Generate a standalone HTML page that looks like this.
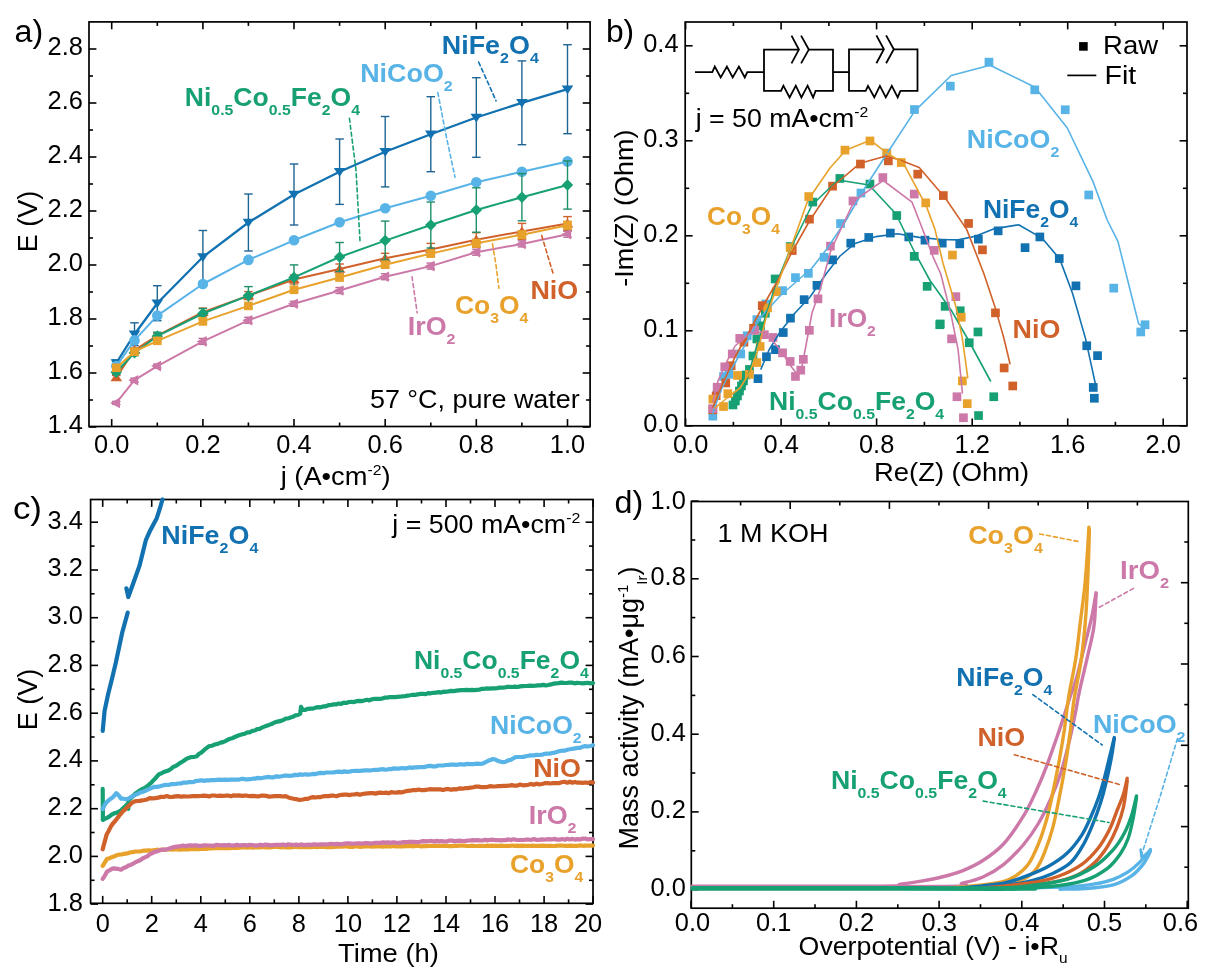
<!DOCTYPE html>
<html><head><meta charset="utf-8"><title>Figure</title>
<style>
html,body{margin:0;padding:0;background:#fff;overflow:hidden;}
svg{display:block;will-change:transform;filter:blur(0.35px);}
text{font-family:"Liberation Sans",sans-serif;}
</style></head><body>
<svg width="1212" height="972" viewBox="0 0 1212 972">
<rect width="1212" height="972" fill="#fff"/>
<rect x="89" y="21.9" width="501.1" height="404.6" fill="none" stroke="#000" stroke-width="1.7"/>
<line x1="111.7" y1="426.5" x2="111.7" y2="419.1" stroke="#000" stroke-width="1.6" />
<line x1="111.7" y1="21.9" x2="111.7" y2="29.3" stroke="#000" stroke-width="1.6" />
<line x1="202.9" y1="426.5" x2="202.9" y2="419.1" stroke="#000" stroke-width="1.6" />
<line x1="202.9" y1="21.9" x2="202.9" y2="29.3" stroke="#000" stroke-width="1.6" />
<line x1="294" y1="426.5" x2="294" y2="419.1" stroke="#000" stroke-width="1.6" />
<line x1="294" y1="21.9" x2="294" y2="29.3" stroke="#000" stroke-width="1.6" />
<line x1="385.2" y1="426.5" x2="385.2" y2="419.1" stroke="#000" stroke-width="1.6" />
<line x1="385.2" y1="21.9" x2="385.2" y2="29.3" stroke="#000" stroke-width="1.6" />
<line x1="476.3" y1="426.5" x2="476.3" y2="419.1" stroke="#000" stroke-width="1.6" />
<line x1="476.3" y1="21.9" x2="476.3" y2="29.3" stroke="#000" stroke-width="1.6" />
<line x1="567.5" y1="426.5" x2="567.5" y2="419.1" stroke="#000" stroke-width="1.6" />
<line x1="567.5" y1="21.9" x2="567.5" y2="29.3" stroke="#000" stroke-width="1.6" />
<line x1="157.3" y1="426.5" x2="157.3" y2="422.5" stroke="#000" stroke-width="1.6" />
<line x1="157.3" y1="21.9" x2="157.3" y2="25.9" stroke="#000" stroke-width="1.6" />
<line x1="248.4" y1="426.5" x2="248.4" y2="422.5" stroke="#000" stroke-width="1.6" />
<line x1="248.4" y1="21.9" x2="248.4" y2="25.9" stroke="#000" stroke-width="1.6" />
<line x1="339.6" y1="426.5" x2="339.6" y2="422.5" stroke="#000" stroke-width="1.6" />
<line x1="339.6" y1="21.9" x2="339.6" y2="25.9" stroke="#000" stroke-width="1.6" />
<line x1="430.8" y1="426.5" x2="430.8" y2="422.5" stroke="#000" stroke-width="1.6" />
<line x1="430.8" y1="21.9" x2="430.8" y2="25.9" stroke="#000" stroke-width="1.6" />
<line x1="521.9" y1="426.5" x2="521.9" y2="422.5" stroke="#000" stroke-width="1.6" />
<line x1="521.9" y1="21.9" x2="521.9" y2="25.9" stroke="#000" stroke-width="1.6" />
<line x1="89" y1="427" x2="96.4" y2="427" stroke="#000" stroke-width="1.6" />
<line x1="590.1" y1="427" x2="582.7" y2="427" stroke="#000" stroke-width="1.6" />
<line x1="89" y1="373" x2="96.4" y2="373" stroke="#000" stroke-width="1.6" />
<line x1="590.1" y1="373" x2="582.7" y2="373" stroke="#000" stroke-width="1.6" />
<line x1="89" y1="319" x2="96.4" y2="319" stroke="#000" stroke-width="1.6" />
<line x1="590.1" y1="319" x2="582.7" y2="319" stroke="#000" stroke-width="1.6" />
<line x1="89" y1="265" x2="96.4" y2="265" stroke="#000" stroke-width="1.6" />
<line x1="590.1" y1="265" x2="582.7" y2="265" stroke="#000" stroke-width="1.6" />
<line x1="89" y1="211" x2="96.4" y2="211" stroke="#000" stroke-width="1.6" />
<line x1="590.1" y1="211" x2="582.7" y2="211" stroke="#000" stroke-width="1.6" />
<line x1="89" y1="157" x2="96.4" y2="157" stroke="#000" stroke-width="1.6" />
<line x1="590.1" y1="157" x2="582.7" y2="157" stroke="#000" stroke-width="1.6" />
<line x1="89" y1="103" x2="96.4" y2="103" stroke="#000" stroke-width="1.6" />
<line x1="590.1" y1="103" x2="582.7" y2="103" stroke="#000" stroke-width="1.6" />
<line x1="89" y1="49" x2="96.4" y2="49" stroke="#000" stroke-width="1.6" />
<line x1="590.1" y1="49" x2="582.7" y2="49" stroke="#000" stroke-width="1.6" />
<line x1="89" y1="400" x2="93" y2="400" stroke="#000" stroke-width="1.6" />
<line x1="590.1" y1="400" x2="586.1" y2="400" stroke="#000" stroke-width="1.6" />
<line x1="89" y1="346" x2="93" y2="346" stroke="#000" stroke-width="1.6" />
<line x1="590.1" y1="346" x2="586.1" y2="346" stroke="#000" stroke-width="1.6" />
<line x1="89" y1="292" x2="93" y2="292" stroke="#000" stroke-width="1.6" />
<line x1="590.1" y1="292" x2="586.1" y2="292" stroke="#000" stroke-width="1.6" />
<line x1="89" y1="238" x2="93" y2="238" stroke="#000" stroke-width="1.6" />
<line x1="590.1" y1="238" x2="586.1" y2="238" stroke="#000" stroke-width="1.6" />
<line x1="89" y1="184" x2="93" y2="184" stroke="#000" stroke-width="1.6" />
<line x1="590.1" y1="184" x2="586.1" y2="184" stroke="#000" stroke-width="1.6" />
<line x1="89" y1="130" x2="93" y2="130" stroke="#000" stroke-width="1.6" />
<line x1="590.1" y1="130" x2="586.1" y2="130" stroke="#000" stroke-width="1.6" />
<line x1="89" y1="76" x2="93" y2="76" stroke="#000" stroke-width="1.6" />
<line x1="590.1" y1="76" x2="586.1" y2="76" stroke="#000" stroke-width="1.6" />
<text transform="translate(82.9,433.4) scale(1.0000,1)" font-size="25.4" text-anchor="end" fill="#000">1.4</text>
<text transform="translate(82.9,379.4) scale(1.0000,1)" font-size="25.4" text-anchor="end" fill="#000">1.6</text>
<text transform="translate(82.9,325.4) scale(1.0000,1)" font-size="25.4" text-anchor="end" fill="#000">1.8</text>
<text transform="translate(82.9,271.4) scale(1.0000,1)" font-size="25.4" text-anchor="end" fill="#000">2.0</text>
<text transform="translate(82.9,217.4) scale(1.0000,1)" font-size="25.4" text-anchor="end" fill="#000">2.2</text>
<text transform="translate(82.9,163.4) scale(1.0000,1)" font-size="25.4" text-anchor="end" fill="#000">2.4</text>
<text transform="translate(82.9,109.4) scale(1.0000,1)" font-size="25.4" text-anchor="end" fill="#000">2.6</text>
<text transform="translate(82.9,55.4) scale(1.0000,1)" font-size="25.4" text-anchor="end" fill="#000">2.8</text>
<text transform="translate(111.7,452.5) scale(1.0000,1)" font-size="25.4" text-anchor="middle" fill="#000">0.0</text>
<text transform="translate(202.9,452.5) scale(1.0000,1)" font-size="25.4" text-anchor="middle" fill="#000">0.2</text>
<text transform="translate(294,452.5) scale(1.0000,1)" font-size="25.4" text-anchor="middle" fill="#000">0.4</text>
<text transform="translate(385.2,452.5) scale(1.0000,1)" font-size="25.4" text-anchor="middle" fill="#000">0.6</text>
<text transform="translate(476.3,452.5) scale(1.0000,1)" font-size="25.4" text-anchor="middle" fill="#000">0.8</text>
<text transform="translate(567.5,452.5) scale(1.0000,1)" font-size="25.4" text-anchor="middle" fill="#000">1.0</text>
<text transform="translate(14.6,42.2) scale(1.0400,1)" font-size="31" font-weight="normal" fill="#000"><tspan>a)</tspan></text>
<text transform="translate(36.7,221.5) rotate(-90) scale(1.0,1)" font-size="27" text-anchor="middle">E (V)</text>
<text transform="translate(280.7,485.2) scale(1.0487,1)" font-size="26" font-weight="normal" fill="#000"><tspan>j (A•cm</tspan><tspan font-size="15" dy="-10">-2</tspan><tspan dy="10">)</tspan></text>
<text transform="translate(369.9,407.7) scale(1.0647,1)" font-size="25.3" font-weight="normal" fill="#000"><tspan>57 °C, pure water</tspan></text>
<line x1="116.3" y1="360" x2="116.3" y2="366" stroke="#1f6594" stroke-width="1.4" />
<line x1="112" y1="360" x2="120.5" y2="360" stroke="#1f6594" stroke-width="1.4" />
<line x1="112" y1="366" x2="120.5" y2="366" stroke="#1f6594" stroke-width="1.4" />
<line x1="134.5" y1="322.8" x2="134.5" y2="345.6" stroke="#1f6594" stroke-width="1.4" />
<line x1="130.2" y1="322.8" x2="138.7" y2="322.8" stroke="#1f6594" stroke-width="1.4" />
<line x1="130.2" y1="345.6" x2="138.7" y2="345.6" stroke="#1f6594" stroke-width="1.4" />
<line x1="157.3" y1="285.7" x2="157.3" y2="320.7" stroke="#1f6594" stroke-width="1.4" />
<line x1="153" y1="285.7" x2="161.5" y2="285.7" stroke="#1f6594" stroke-width="1.4" />
<line x1="153" y1="320.7" x2="161.5" y2="320.7" stroke="#1f6594" stroke-width="1.4" />
<line x1="202.9" y1="230.5" x2="202.9" y2="283.5" stroke="#1f6594" stroke-width="1.4" />
<line x1="198.6" y1="230.5" x2="207.1" y2="230.5" stroke="#1f6594" stroke-width="1.4" />
<line x1="198.6" y1="283.5" x2="207.1" y2="283.5" stroke="#1f6594" stroke-width="1.4" />
<line x1="248.4" y1="194" x2="248.4" y2="251" stroke="#1f6594" stroke-width="1.4" />
<line x1="244.2" y1="194" x2="252.7" y2="194" stroke="#1f6594" stroke-width="1.4" />
<line x1="244.2" y1="251" x2="252.7" y2="251" stroke="#1f6594" stroke-width="1.4" />
<line x1="294" y1="164" x2="294" y2="225" stroke="#1f6594" stroke-width="1.4" />
<line x1="289.8" y1="164" x2="298.3" y2="164" stroke="#1f6594" stroke-width="1.4" />
<line x1="289.8" y1="225" x2="298.3" y2="225" stroke="#1f6594" stroke-width="1.4" />
<line x1="339.6" y1="139" x2="339.6" y2="204.4" stroke="#1f6594" stroke-width="1.4" />
<line x1="335.4" y1="139" x2="343.9" y2="139" stroke="#1f6594" stroke-width="1.4" />
<line x1="335.4" y1="204.4" x2="343.9" y2="204.4" stroke="#1f6594" stroke-width="1.4" />
<line x1="385.2" y1="116.5" x2="385.2" y2="186.9" stroke="#1f6594" stroke-width="1.4" />
<line x1="380.9" y1="116.5" x2="389.4" y2="116.5" stroke="#1f6594" stroke-width="1.4" />
<line x1="380.9" y1="186.9" x2="389.4" y2="186.9" stroke="#1f6594" stroke-width="1.4" />
<line x1="430.8" y1="96.7" x2="430.8" y2="171.7" stroke="#1f6594" stroke-width="1.4" />
<line x1="426.5" y1="96.7" x2="435" y2="96.7" stroke="#1f6594" stroke-width="1.4" />
<line x1="426.5" y1="171.7" x2="435" y2="171.7" stroke="#1f6594" stroke-width="1.4" />
<line x1="476.3" y1="77.7" x2="476.3" y2="157.3" stroke="#1f6594" stroke-width="1.4" />
<line x1="472.1" y1="77.7" x2="480.6" y2="77.7" stroke="#1f6594" stroke-width="1.4" />
<line x1="472.1" y1="157.3" x2="480.6" y2="157.3" stroke="#1f6594" stroke-width="1.4" />
<line x1="521.9" y1="60.9" x2="521.9" y2="144.7" stroke="#1f6594" stroke-width="1.4" />
<line x1="517.7" y1="60.9" x2="526.2" y2="60.9" stroke="#1f6594" stroke-width="1.4" />
<line x1="517.7" y1="144.7" x2="526.2" y2="144.7" stroke="#1f6594" stroke-width="1.4" />
<line x1="567.5" y1="44.7" x2="567.5" y2="133.7" stroke="#1f6594" stroke-width="1.4" />
<line x1="563.2" y1="44.7" x2="571.8" y2="44.7" stroke="#1f6594" stroke-width="1.4" />
<line x1="563.2" y1="133.7" x2="571.8" y2="133.7" stroke="#1f6594" stroke-width="1.4" />
<polyline points="116.3,363 134.5,334.2 157.3,303.2 202.9,257 248.4,222.5 294,194.5 339.6,171.7 385.2,151.7 430.8,134.2 476.3,117.5 521.9,102.8 567.5,89.2" fill="none" stroke="#1271b0" stroke-width="2.3" stroke-linejoin="round" stroke-linecap="round" />
<path d="M110.5,359.2H122.1L116.3,368Z" fill="#1271b0"/>
<path d="M128.7,330.4H140.3L134.5,339.2Z" fill="#1271b0"/>
<path d="M151.5,299.4H163.1L157.3,308.2Z" fill="#1271b0"/>
<path d="M197.1,253.2H208.7L202.9,262Z" fill="#1271b0"/>
<path d="M242.6,218.7H254.2L248.4,227.5Z" fill="#1271b0"/>
<path d="M288.2,190.7H299.8L294,199.5Z" fill="#1271b0"/>
<path d="M333.8,167.9H345.4L339.6,176.7Z" fill="#1271b0"/>
<path d="M379.4,147.9H391L385.2,156.7Z" fill="#1271b0"/>
<path d="M425,130.4H436.6L430.8,139.2Z" fill="#1271b0"/>
<path d="M470.5,113.7H482.1L476.3,122.5Z" fill="#1271b0"/>
<path d="M516.1,99H527.7L521.9,107.8Z" fill="#1271b0"/>
<path d="M561.7,85.4H573.3L567.5,94.2Z" fill="#1271b0"/>
<line x1="116.3" y1="364.6" x2="116.3" y2="367.6" stroke="#4ea3cf" stroke-width="1.4" />
<line x1="112" y1="364.6" x2="120.5" y2="364.6" stroke="#4ea3cf" stroke-width="1.4" />
<line x1="112" y1="367.6" x2="120.5" y2="367.6" stroke="#4ea3cf" stroke-width="1.4" />
<line x1="134.5" y1="338.9" x2="134.5" y2="341.9" stroke="#4ea3cf" stroke-width="1.4" />
<line x1="130.2" y1="338.9" x2="138.7" y2="338.9" stroke="#4ea3cf" stroke-width="1.4" />
<line x1="130.2" y1="341.9" x2="138.7" y2="341.9" stroke="#4ea3cf" stroke-width="1.4" />
<line x1="157.3" y1="313.6" x2="157.3" y2="317.6" stroke="#4ea3cf" stroke-width="1.4" />
<line x1="153" y1="313.6" x2="161.5" y2="313.6" stroke="#4ea3cf" stroke-width="1.4" />
<line x1="153" y1="317.6" x2="161.5" y2="317.6" stroke="#4ea3cf" stroke-width="1.4" />
<line x1="202.9" y1="282" x2="202.9" y2="286" stroke="#4ea3cf" stroke-width="1.4" />
<line x1="198.6" y1="282" x2="207.1" y2="282" stroke="#4ea3cf" stroke-width="1.4" />
<line x1="198.6" y1="286" x2="207.1" y2="286" stroke="#4ea3cf" stroke-width="1.4" />
<line x1="248.4" y1="257.9" x2="248.4" y2="261.9" stroke="#4ea3cf" stroke-width="1.4" />
<line x1="244.2" y1="257.9" x2="252.7" y2="257.9" stroke="#4ea3cf" stroke-width="1.4" />
<line x1="244.2" y1="261.9" x2="252.7" y2="261.9" stroke="#4ea3cf" stroke-width="1.4" />
<line x1="294" y1="238.3" x2="294" y2="242.3" stroke="#4ea3cf" stroke-width="1.4" />
<line x1="289.8" y1="238.3" x2="298.3" y2="238.3" stroke="#4ea3cf" stroke-width="1.4" />
<line x1="289.8" y1="242.3" x2="298.3" y2="242.3" stroke="#4ea3cf" stroke-width="1.4" />
<line x1="339.6" y1="220.2" x2="339.6" y2="224.2" stroke="#4ea3cf" stroke-width="1.4" />
<line x1="335.4" y1="220.2" x2="343.9" y2="220.2" stroke="#4ea3cf" stroke-width="1.4" />
<line x1="335.4" y1="224.2" x2="343.9" y2="224.2" stroke="#4ea3cf" stroke-width="1.4" />
<line x1="385.2" y1="206.3" x2="385.2" y2="210.3" stroke="#4ea3cf" stroke-width="1.4" />
<line x1="380.9" y1="206.3" x2="389.4" y2="206.3" stroke="#4ea3cf" stroke-width="1.4" />
<line x1="380.9" y1="210.3" x2="389.4" y2="210.3" stroke="#4ea3cf" stroke-width="1.4" />
<line x1="430.8" y1="193.8" x2="430.8" y2="197.8" stroke="#4ea3cf" stroke-width="1.4" />
<line x1="426.5" y1="193.8" x2="435" y2="193.8" stroke="#4ea3cf" stroke-width="1.4" />
<line x1="426.5" y1="197.8" x2="435" y2="197.8" stroke="#4ea3cf" stroke-width="1.4" />
<line x1="476.3" y1="180.2" x2="476.3" y2="184.2" stroke="#4ea3cf" stroke-width="1.4" />
<line x1="472.1" y1="180.2" x2="480.6" y2="180.2" stroke="#4ea3cf" stroke-width="1.4" />
<line x1="472.1" y1="184.2" x2="480.6" y2="184.2" stroke="#4ea3cf" stroke-width="1.4" />
<line x1="521.9" y1="169.7" x2="521.9" y2="173.7" stroke="#4ea3cf" stroke-width="1.4" />
<line x1="517.7" y1="169.7" x2="526.2" y2="169.7" stroke="#4ea3cf" stroke-width="1.4" />
<line x1="517.7" y1="173.7" x2="526.2" y2="173.7" stroke="#4ea3cf" stroke-width="1.4" />
<line x1="567.5" y1="159.4" x2="567.5" y2="163.4" stroke="#4ea3cf" stroke-width="1.4" />
<line x1="563.2" y1="159.4" x2="571.8" y2="159.4" stroke="#4ea3cf" stroke-width="1.4" />
<line x1="563.2" y1="163.4" x2="571.8" y2="163.4" stroke="#4ea3cf" stroke-width="1.4" />
<polyline points="116.3,366.1 134.5,340.4 157.3,315.6 202.9,284 248.4,259.9 294,240.3 339.6,222.2 385.2,208.3 430.8,195.8 476.3,182.2 521.9,171.7 567.5,161.4" fill="none" stroke="#58b3e6" stroke-width="2.0" stroke-linejoin="round" stroke-linecap="round" />
<circle cx="116.3" cy="366.1" r="5.3" fill="#58b3e6"/>
<circle cx="134.5" cy="340.4" r="5.3" fill="#58b3e6"/>
<circle cx="157.3" cy="315.6" r="5.3" fill="#58b3e6"/>
<circle cx="202.9" cy="284" r="5.3" fill="#58b3e6"/>
<circle cx="248.4" cy="259.9" r="5.3" fill="#58b3e6"/>
<circle cx="294" cy="240.3" r="5.3" fill="#58b3e6"/>
<circle cx="339.6" cy="222.2" r="5.3" fill="#58b3e6"/>
<circle cx="385.2" cy="208.3" r="5.3" fill="#58b3e6"/>
<circle cx="430.8" cy="195.8" r="5.3" fill="#58b3e6"/>
<circle cx="476.3" cy="182.2" r="5.3" fill="#58b3e6"/>
<circle cx="521.9" cy="171.7" r="5.3" fill="#58b3e6"/>
<circle cx="567.5" cy="161.4" r="5.3" fill="#58b3e6"/>
<line x1="116.3" y1="375.5" x2="116.3" y2="379.5" stroke="#d0612a" stroke-width="1.4" />
<line x1="112" y1="375.5" x2="120.5" y2="375.5" stroke="#d0612a" stroke-width="1.4" />
<line x1="112" y1="379.5" x2="120.5" y2="379.5" stroke="#d0612a" stroke-width="1.4" />
<line x1="134.5" y1="348" x2="134.5" y2="352" stroke="#d0612a" stroke-width="1.4" />
<line x1="130.2" y1="348" x2="138.7" y2="348" stroke="#d0612a" stroke-width="1.4" />
<line x1="130.2" y1="352" x2="138.7" y2="352" stroke="#d0612a" stroke-width="1.4" />
<line x1="157.3" y1="333.1" x2="157.3" y2="338.1" stroke="#d0612a" stroke-width="1.4" />
<line x1="153" y1="333.1" x2="161.5" y2="333.1" stroke="#d0612a" stroke-width="1.4" />
<line x1="153" y1="338.1" x2="161.5" y2="338.1" stroke="#d0612a" stroke-width="1.4" />
<line x1="202.9" y1="308.1" x2="202.9" y2="316.1" stroke="#d0612a" stroke-width="1.4" />
<line x1="198.6" y1="308.1" x2="207.1" y2="308.1" stroke="#d0612a" stroke-width="1.4" />
<line x1="198.6" y1="316.1" x2="207.1" y2="316.1" stroke="#d0612a" stroke-width="1.4" />
<line x1="248.4" y1="291.6" x2="248.4" y2="299.6" stroke="#d0612a" stroke-width="1.4" />
<line x1="244.2" y1="291.6" x2="252.7" y2="291.6" stroke="#d0612a" stroke-width="1.4" />
<line x1="244.2" y1="299.6" x2="252.7" y2="299.6" stroke="#d0612a" stroke-width="1.4" />
<line x1="294" y1="275" x2="294" y2="284" stroke="#d0612a" stroke-width="1.4" />
<line x1="289.8" y1="275" x2="298.3" y2="275" stroke="#d0612a" stroke-width="1.4" />
<line x1="289.8" y1="284" x2="298.3" y2="284" stroke="#d0612a" stroke-width="1.4" />
<line x1="339.6" y1="264" x2="339.6" y2="274" stroke="#d0612a" stroke-width="1.4" />
<line x1="335.4" y1="264" x2="343.9" y2="264" stroke="#d0612a" stroke-width="1.4" />
<line x1="335.4" y1="274" x2="343.9" y2="274" stroke="#d0612a" stroke-width="1.4" />
<line x1="385.2" y1="253.3" x2="385.2" y2="263.3" stroke="#d0612a" stroke-width="1.4" />
<line x1="380.9" y1="253.3" x2="389.4" y2="253.3" stroke="#d0612a" stroke-width="1.4" />
<line x1="380.9" y1="263.3" x2="389.4" y2="263.3" stroke="#d0612a" stroke-width="1.4" />
<line x1="430.8" y1="243.4" x2="430.8" y2="255.4" stroke="#d0612a" stroke-width="1.4" />
<line x1="426.5" y1="243.4" x2="435" y2="243.4" stroke="#d0612a" stroke-width="1.4" />
<line x1="426.5" y1="255.4" x2="435" y2="255.4" stroke="#d0612a" stroke-width="1.4" />
<line x1="476.3" y1="232.7" x2="476.3" y2="246.7" stroke="#d0612a" stroke-width="1.4" />
<line x1="472.1" y1="232.7" x2="480.6" y2="232.7" stroke="#d0612a" stroke-width="1.4" />
<line x1="472.1" y1="246.7" x2="480.6" y2="246.7" stroke="#d0612a" stroke-width="1.4" />
<line x1="521.9" y1="223.4" x2="521.9" y2="239.4" stroke="#d0612a" stroke-width="1.4" />
<line x1="517.7" y1="223.4" x2="526.2" y2="223.4" stroke="#d0612a" stroke-width="1.4" />
<line x1="517.7" y1="239.4" x2="526.2" y2="239.4" stroke="#d0612a" stroke-width="1.4" />
<line x1="567.5" y1="216.6" x2="567.5" y2="230.6" stroke="#d0612a" stroke-width="1.4" />
<line x1="563.2" y1="216.6" x2="571.8" y2="216.6" stroke="#d0612a" stroke-width="1.4" />
<line x1="563.2" y1="230.6" x2="571.8" y2="230.6" stroke="#d0612a" stroke-width="1.4" />
<polyline points="116.3,377.5 134.5,350 157.3,335.6 202.9,312.1 248.4,295.6 294,279.5 339.6,269 385.2,258.3 430.8,249.4 476.3,239.7 521.9,231.4 567.5,223.6" fill="none" stroke="#d0612a" stroke-width="2.0" stroke-linejoin="round" stroke-linecap="round" />
<path d="M110.5,381.3H122.1L116.3,372.5Z" fill="#d0612a"/>
<path d="M128.7,353.8H140.3L134.5,345Z" fill="#d0612a"/>
<path d="M151.5,339.4H163.1L157.3,330.6Z" fill="#d0612a"/>
<path d="M197.1,315.9H208.7L202.9,307.1Z" fill="#d0612a"/>
<path d="M242.6,299.4H254.2L248.4,290.6Z" fill="#d0612a"/>
<path d="M288.2,283.3H299.8L294,274.5Z" fill="#d0612a"/>
<path d="M333.8,272.8H345.4L339.6,264Z" fill="#d0612a"/>
<path d="M379.4,262.1H391L385.2,253.3Z" fill="#d0612a"/>
<path d="M425,253.2H436.6L430.8,244.4Z" fill="#d0612a"/>
<path d="M470.5,243.5H482.1L476.3,234.7Z" fill="#d0612a"/>
<path d="M516.1,235.2H527.7L521.9,226.4Z" fill="#d0612a"/>
<path d="M561.7,227.4H573.3L567.5,218.6Z" fill="#d0612a"/>
<line x1="116.3" y1="370.3" x2="116.3" y2="374.3" stroke="#1d8f69" stroke-width="1.4" />
<line x1="112" y1="370.3" x2="120.5" y2="370.3" stroke="#1d8f69" stroke-width="1.4" />
<line x1="112" y1="374.3" x2="120.5" y2="374.3" stroke="#1d8f69" stroke-width="1.4" />
<line x1="134.5" y1="349.7" x2="134.5" y2="355.7" stroke="#1d8f69" stroke-width="1.4" />
<line x1="130.2" y1="349.7" x2="138.7" y2="349.7" stroke="#1d8f69" stroke-width="1.4" />
<line x1="130.2" y1="355.7" x2="138.7" y2="355.7" stroke="#1d8f69" stroke-width="1.4" />
<line x1="157.3" y1="332.2" x2="157.3" y2="340.2" stroke="#1d8f69" stroke-width="1.4" />
<line x1="153" y1="332.2" x2="161.5" y2="332.2" stroke="#1d8f69" stroke-width="1.4" />
<line x1="153" y1="340.2" x2="161.5" y2="340.2" stroke="#1d8f69" stroke-width="1.4" />
<line x1="202.9" y1="308.5" x2="202.9" y2="318.5" stroke="#1d8f69" stroke-width="1.4" />
<line x1="198.6" y1="308.5" x2="207.1" y2="308.5" stroke="#1d8f69" stroke-width="1.4" />
<line x1="198.6" y1="318.5" x2="207.1" y2="318.5" stroke="#1d8f69" stroke-width="1.4" />
<line x1="248.4" y1="286.6" x2="248.4" y2="304.6" stroke="#1d8f69" stroke-width="1.4" />
<line x1="244.2" y1="286.6" x2="252.7" y2="286.6" stroke="#1d8f69" stroke-width="1.4" />
<line x1="244.2" y1="304.6" x2="252.7" y2="304.6" stroke="#1d8f69" stroke-width="1.4" />
<line x1="294" y1="264.9" x2="294" y2="289.9" stroke="#1d8f69" stroke-width="1.4" />
<line x1="289.8" y1="264.9" x2="298.3" y2="264.9" stroke="#1d8f69" stroke-width="1.4" />
<line x1="289.8" y1="289.9" x2="298.3" y2="289.9" stroke="#1d8f69" stroke-width="1.4" />
<line x1="339.6" y1="242.5" x2="339.6" y2="271.5" stroke="#1d8f69" stroke-width="1.4" />
<line x1="335.4" y1="242.5" x2="343.9" y2="242.5" stroke="#1d8f69" stroke-width="1.4" />
<line x1="335.4" y1="271.5" x2="343.9" y2="271.5" stroke="#1d8f69" stroke-width="1.4" />
<line x1="385.2" y1="221.1" x2="385.2" y2="260.1" stroke="#1d8f69" stroke-width="1.4" />
<line x1="380.9" y1="221.1" x2="389.4" y2="221.1" stroke="#1d8f69" stroke-width="1.4" />
<line x1="380.9" y1="260.1" x2="389.4" y2="260.1" stroke="#1d8f69" stroke-width="1.4" />
<line x1="430.8" y1="202" x2="430.8" y2="248" stroke="#1d8f69" stroke-width="1.4" />
<line x1="426.5" y1="202" x2="435" y2="202" stroke="#1d8f69" stroke-width="1.4" />
<line x1="426.5" y1="248" x2="435" y2="248" stroke="#1d8f69" stroke-width="1.4" />
<line x1="476.3" y1="187.8" x2="476.3" y2="232.2" stroke="#1d8f69" stroke-width="1.4" />
<line x1="472.1" y1="187.8" x2="480.6" y2="187.8" stroke="#1d8f69" stroke-width="1.4" />
<line x1="472.1" y1="232.2" x2="480.6" y2="232.2" stroke="#1d8f69" stroke-width="1.4" />
<line x1="521.9" y1="173.6" x2="521.9" y2="220.8" stroke="#1d8f69" stroke-width="1.4" />
<line x1="517.7" y1="173.6" x2="526.2" y2="173.6" stroke="#1d8f69" stroke-width="1.4" />
<line x1="517.7" y1="220.8" x2="526.2" y2="220.8" stroke="#1d8f69" stroke-width="1.4" />
<line x1="567.5" y1="160.9" x2="567.5" y2="209.1" stroke="#1d8f69" stroke-width="1.4" />
<line x1="563.2" y1="160.9" x2="571.8" y2="160.9" stroke="#1d8f69" stroke-width="1.4" />
<line x1="563.2" y1="209.1" x2="571.8" y2="209.1" stroke="#1d8f69" stroke-width="1.4" />
<polyline points="116.3,372.3 134.5,352.7 157.3,336.2 202.9,313.5 248.4,295.6 294,277.4 339.6,257 385.2,240.6 430.8,225 476.3,210 521.9,197.2 567.5,185" fill="none" stroke="#16a074" stroke-width="2.0" stroke-linejoin="round" stroke-linecap="round" />
<path d="M116.3,366.6L122,372.3L116.3,378.1L110.5,372.3Z" fill="#16a074"/>
<path d="M134.5,346.9L140.2,352.7L134.5,358.4L128.7,352.7Z" fill="#16a074"/>
<path d="M157.3,330.4L163,336.2L157.3,341.9L151.5,336.2Z" fill="#16a074"/>
<path d="M202.9,307.8L208.6,313.5L202.9,319.2L197.1,313.5Z" fill="#16a074"/>
<path d="M248.4,289.9L254.2,295.6L248.4,301.4L242.7,295.6Z" fill="#16a074"/>
<path d="M294,271.6L299.8,277.4L294,283.1L288.3,277.4Z" fill="#16a074"/>
<path d="M339.6,251.2L345.4,257L339.6,262.8L333.9,257Z" fill="#16a074"/>
<path d="M385.2,234.8L390.9,240.6L385.2,246.3L379.4,240.6Z" fill="#16a074"/>
<path d="M430.8,219.2L436.5,225L430.8,230.8L425,225Z" fill="#16a074"/>
<path d="M476.3,204.2L482.1,210L476.3,215.8L470.6,210Z" fill="#16a074"/>
<path d="M521.9,191.4L527.7,197.2L521.9,202.9L516.2,197.2Z" fill="#16a074"/>
<path d="M567.5,179.2L573.2,185L567.5,190.8L561.8,185Z" fill="#16a074"/>
<line x1="116.3" y1="401.4" x2="116.3" y2="404.4" stroke="#b86f98" stroke-width="1.4" />
<line x1="112" y1="401.4" x2="120.5" y2="401.4" stroke="#b86f98" stroke-width="1.4" />
<line x1="112" y1="404.4" x2="120.5" y2="404.4" stroke="#b86f98" stroke-width="1.4" />
<line x1="134.5" y1="378.2" x2="134.5" y2="382.2" stroke="#b86f98" stroke-width="1.4" />
<line x1="130.2" y1="378.2" x2="138.7" y2="378.2" stroke="#b86f98" stroke-width="1.4" />
<line x1="130.2" y1="382.2" x2="138.7" y2="382.2" stroke="#b86f98" stroke-width="1.4" />
<line x1="157.3" y1="364.1" x2="157.3" y2="368.1" stroke="#b86f98" stroke-width="1.4" />
<line x1="153" y1="364.1" x2="161.5" y2="364.1" stroke="#b86f98" stroke-width="1.4" />
<line x1="153" y1="368.1" x2="161.5" y2="368.1" stroke="#b86f98" stroke-width="1.4" />
<line x1="202.9" y1="338.4" x2="202.9" y2="344.4" stroke="#b86f98" stroke-width="1.4" />
<line x1="198.6" y1="338.4" x2="207.1" y2="338.4" stroke="#b86f98" stroke-width="1.4" />
<line x1="198.6" y1="344.4" x2="207.1" y2="344.4" stroke="#b86f98" stroke-width="1.4" />
<line x1="248.4" y1="317.3" x2="248.4" y2="323.3" stroke="#b86f98" stroke-width="1.4" />
<line x1="244.2" y1="317.3" x2="252.7" y2="317.3" stroke="#b86f98" stroke-width="1.4" />
<line x1="244.2" y1="323.3" x2="252.7" y2="323.3" stroke="#b86f98" stroke-width="1.4" />
<line x1="294" y1="301.3" x2="294" y2="306.3" stroke="#b86f98" stroke-width="1.4" />
<line x1="289.8" y1="301.3" x2="298.3" y2="301.3" stroke="#b86f98" stroke-width="1.4" />
<line x1="289.8" y1="306.3" x2="298.3" y2="306.3" stroke="#b86f98" stroke-width="1.4" />
<line x1="339.6" y1="287.5" x2="339.6" y2="293.5" stroke="#b86f98" stroke-width="1.4" />
<line x1="335.4" y1="287.5" x2="343.9" y2="287.5" stroke="#b86f98" stroke-width="1.4" />
<line x1="335.4" y1="293.5" x2="343.9" y2="293.5" stroke="#b86f98" stroke-width="1.4" />
<line x1="385.2" y1="273.7" x2="385.2" y2="279.7" stroke="#b86f98" stroke-width="1.4" />
<line x1="380.9" y1="273.7" x2="389.4" y2="273.7" stroke="#b86f98" stroke-width="1.4" />
<line x1="380.9" y1="279.7" x2="389.4" y2="279.7" stroke="#b86f98" stroke-width="1.4" />
<line x1="430.8" y1="263.1" x2="430.8" y2="269.1" stroke="#b86f98" stroke-width="1.4" />
<line x1="426.5" y1="263.1" x2="435" y2="263.1" stroke="#b86f98" stroke-width="1.4" />
<line x1="426.5" y1="269.1" x2="435" y2="269.1" stroke="#b86f98" stroke-width="1.4" />
<line x1="476.3" y1="249.2" x2="476.3" y2="255.2" stroke="#b86f98" stroke-width="1.4" />
<line x1="472.1" y1="249.2" x2="480.6" y2="249.2" stroke="#b86f98" stroke-width="1.4" />
<line x1="472.1" y1="255.2" x2="480.6" y2="255.2" stroke="#b86f98" stroke-width="1.4" />
<line x1="521.9" y1="240.9" x2="521.9" y2="246.9" stroke="#b86f98" stroke-width="1.4" />
<line x1="517.7" y1="240.9" x2="526.2" y2="240.9" stroke="#b86f98" stroke-width="1.4" />
<line x1="517.7" y1="246.9" x2="526.2" y2="246.9" stroke="#b86f98" stroke-width="1.4" />
<line x1="567.5" y1="231.2" x2="567.5" y2="237.2" stroke="#b86f98" stroke-width="1.4" />
<line x1="563.2" y1="231.2" x2="571.8" y2="231.2" stroke="#b86f98" stroke-width="1.4" />
<line x1="563.2" y1="237.2" x2="571.8" y2="237.2" stroke="#b86f98" stroke-width="1.4" />
<polyline points="116.3,402.9 134.5,380.2 157.3,366.1 202.9,341.4 248.4,320.3 294,303.8 339.6,290.5 385.2,276.7 430.8,266.1 476.3,252.2 521.9,243.9 567.5,234.2" fill="none" stroke="#cc78a8" stroke-width="2.0" stroke-linejoin="round" stroke-linecap="round" />
<path d="M120,397.6V408.2L110.1,402.9Z" fill="#cc78a8"/>
<path d="M138.2,374.9V385.5L128.3,380.2Z" fill="#cc78a8"/>
<path d="M161,360.8V371.4L151.1,366.1Z" fill="#cc78a8"/>
<path d="M206.6,336.1V346.7L196.7,341.4Z" fill="#cc78a8"/>
<path d="M252.2,315V325.6L242.3,320.3Z" fill="#cc78a8"/>
<path d="M297.8,298.5V309.1L287.9,303.8Z" fill="#cc78a8"/>
<path d="M343.4,285.2V295.8L333.5,290.5Z" fill="#cc78a8"/>
<path d="M388.9,271.4V282L379,276.7Z" fill="#cc78a8"/>
<path d="M434.5,260.8V271.4L424.6,266.1Z" fill="#cc78a8"/>
<path d="M480.1,246.9V257.5L470.2,252.2Z" fill="#cc78a8"/>
<path d="M525.7,238.6V249.2L515.8,243.9Z" fill="#cc78a8"/>
<path d="M571.2,228.9V239.5L561.3,234.2Z" fill="#cc78a8"/>
<line x1="116.3" y1="366.3" x2="116.3" y2="369.3" stroke="#d4952e" stroke-width="1.4" />
<line x1="112" y1="366.3" x2="120.5" y2="366.3" stroke="#d4952e" stroke-width="1.4" />
<line x1="112" y1="369.3" x2="120.5" y2="369.3" stroke="#d4952e" stroke-width="1.4" />
<line x1="134.5" y1="350.2" x2="134.5" y2="353.2" stroke="#d4952e" stroke-width="1.4" />
<line x1="130.2" y1="350.2" x2="138.7" y2="350.2" stroke="#d4952e" stroke-width="1.4" />
<line x1="130.2" y1="353.2" x2="138.7" y2="353.2" stroke="#d4952e" stroke-width="1.4" />
<line x1="157.3" y1="339.3" x2="157.3" y2="342.3" stroke="#d4952e" stroke-width="1.4" />
<line x1="153" y1="339.3" x2="161.5" y2="339.3" stroke="#d4952e" stroke-width="1.4" />
<line x1="153" y1="342.3" x2="161.5" y2="342.3" stroke="#d4952e" stroke-width="1.4" />
<line x1="202.9" y1="319.4" x2="202.9" y2="323.4" stroke="#d4952e" stroke-width="1.4" />
<line x1="198.6" y1="319.4" x2="207.1" y2="319.4" stroke="#d4952e" stroke-width="1.4" />
<line x1="198.6" y1="323.4" x2="207.1" y2="323.4" stroke="#d4952e" stroke-width="1.4" />
<line x1="248.4" y1="303.9" x2="248.4" y2="307.9" stroke="#d4952e" stroke-width="1.4" />
<line x1="244.2" y1="303.9" x2="252.7" y2="303.9" stroke="#d4952e" stroke-width="1.4" />
<line x1="244.2" y1="307.9" x2="252.7" y2="307.9" stroke="#d4952e" stroke-width="1.4" />
<line x1="294" y1="287.3" x2="294" y2="292.3" stroke="#d4952e" stroke-width="1.4" />
<line x1="289.8" y1="287.3" x2="298.3" y2="287.3" stroke="#d4952e" stroke-width="1.4" />
<line x1="289.8" y1="292.3" x2="298.3" y2="292.3" stroke="#d4952e" stroke-width="1.4" />
<line x1="339.6" y1="274.5" x2="339.6" y2="280.5" stroke="#d4952e" stroke-width="1.4" />
<line x1="335.4" y1="274.5" x2="343.9" y2="274.5" stroke="#d4952e" stroke-width="1.4" />
<line x1="335.4" y1="280.5" x2="343.9" y2="280.5" stroke="#d4952e" stroke-width="1.4" />
<line x1="385.2" y1="261.7" x2="385.2" y2="267.7" stroke="#d4952e" stroke-width="1.4" />
<line x1="380.9" y1="261.7" x2="389.4" y2="261.7" stroke="#d4952e" stroke-width="1.4" />
<line x1="380.9" y1="267.7" x2="389.4" y2="267.7" stroke="#d4952e" stroke-width="1.4" />
<line x1="430.8" y1="250.1" x2="430.8" y2="257.1" stroke="#d4952e" stroke-width="1.4" />
<line x1="426.5" y1="250.1" x2="435" y2="250.1" stroke="#d4952e" stroke-width="1.4" />
<line x1="426.5" y1="257.1" x2="435" y2="257.1" stroke="#d4952e" stroke-width="1.4" />
<line x1="476.3" y1="239.3" x2="476.3" y2="247.3" stroke="#d4952e" stroke-width="1.4" />
<line x1="472.1" y1="239.3" x2="480.6" y2="239.3" stroke="#d4952e" stroke-width="1.4" />
<line x1="472.1" y1="247.3" x2="480.6" y2="247.3" stroke="#d4952e" stroke-width="1.4" />
<line x1="521.9" y1="230.7" x2="521.9" y2="238.7" stroke="#d4952e" stroke-width="1.4" />
<line x1="517.7" y1="230.7" x2="526.2" y2="230.7" stroke="#d4952e" stroke-width="1.4" />
<line x1="517.7" y1="238.7" x2="526.2" y2="238.7" stroke="#d4952e" stroke-width="1.4" />
<line x1="567.5" y1="221.3" x2="567.5" y2="229.3" stroke="#d4952e" stroke-width="1.4" />
<line x1="563.2" y1="221.3" x2="571.8" y2="221.3" stroke="#d4952e" stroke-width="1.4" />
<line x1="563.2" y1="229.3" x2="571.8" y2="229.3" stroke="#d4952e" stroke-width="1.4" />
<polyline points="116.3,367.8 134.5,351.7 157.3,340.8 202.9,321.4 248.4,305.9 294,289.8 339.6,277.5 385.2,264.7 430.8,253.6 476.3,243.3 521.9,234.7 567.5,225.3" fill="none" stroke="#e8a22c" stroke-width="2.0" stroke-linejoin="round" stroke-linecap="round" />
<rect x="112" y="363.5" width="8.6" height="8.6" fill="#e8a22c"/>
<rect x="130.2" y="347.4" width="8.6" height="8.6" fill="#e8a22c"/>
<rect x="153" y="336.5" width="8.6" height="8.6" fill="#e8a22c"/>
<rect x="198.6" y="317.1" width="8.6" height="8.6" fill="#e8a22c"/>
<rect x="244.1" y="301.6" width="8.6" height="8.6" fill="#e8a22c"/>
<rect x="289.7" y="285.5" width="8.6" height="8.6" fill="#e8a22c"/>
<rect x="335.3" y="273.2" width="8.6" height="8.6" fill="#e8a22c"/>
<rect x="380.9" y="260.4" width="8.6" height="8.6" fill="#e8a22c"/>
<rect x="426.5" y="249.3" width="8.6" height="8.6" fill="#e8a22c"/>
<rect x="472" y="239" width="8.6" height="8.6" fill="#e8a22c"/>
<rect x="517.6" y="230.4" width="8.6" height="8.6" fill="#e8a22c"/>
<rect x="563.2" y="221" width="8.6" height="8.6" fill="#e8a22c"/>
<text transform="translate(441.8,53.6) scale(1.0350,1)" font-size="26" font-weight="bold" fill="#1271b0"><tspan>NiFe</tspan><tspan font-size="15.5" dy="9">2</tspan><tspan dy="-9">O</tspan><tspan font-size="15.5" dy="9">4</tspan></text>
<text transform="translate(360.2,82.2) scale(1.0350,1)" font-size="26" font-weight="bold" fill="#58b3e6"><tspan>NiCoO</tspan><tspan font-size="15.5" dy="9">2</tspan></text>
<text transform="translate(184.8,106.1) scale(1.0208,1)" font-size="26" font-weight="bold" fill="#16a074"><tspan>Ni</tspan><tspan font-size="15.5" dy="9">0.5</tspan><tspan dy="-9">Co</tspan><tspan font-size="15.5" dy="9">0.5</tspan><tspan dy="-9">Fe</tspan><tspan font-size="15.5" dy="9">2</tspan><tspan dy="-9">O</tspan><tspan font-size="15.5" dy="9">4</tspan></text>
<text transform="translate(530.4,298.8) scale(1.0350,1)" font-size="26" font-weight="bold" fill="#d0612a"><tspan>NiO</tspan></text>
<text transform="translate(454.9,313.6) scale(1.0180,1)" font-size="26" font-weight="bold" fill="#e8a22c"><tspan>Co</tspan><tspan font-size="15.5" dy="9">3</tspan><tspan dy="-9">O</tspan><tspan font-size="15.5" dy="9">4</tspan></text>
<text transform="translate(407.7,335.1) scale(1.0350,1)" font-size="26" font-weight="bold" fill="#cc78a8"><tspan>IrO</tspan><tspan font-size="15.5" dy="9">2</tspan></text>
<polyline points="478.6,62 496.1,100.8" fill="none" stroke="#1271b0" stroke-width="1.6" stroke-linejoin="round" stroke-linecap="round" stroke-dasharray="4 3" stroke-linecap="butt"/>
<polyline points="437.8,92.5 446,135 455,177.2" fill="none" stroke="#58b3e6" stroke-width="1.6" stroke-linejoin="round" stroke-linecap="round" stroke-dasharray="4 3" stroke-linecap="butt"/>
<polyline points="349.4,118.3 356,170 360,241" fill="none" stroke="#16a074" stroke-width="1.6" stroke-linejoin="round" stroke-linecap="round" stroke-dasharray="4 3" stroke-linecap="butt"/>
<polyline points="541.7,235.6 549,260 553.4,274.4" fill="none" stroke="#d0612a" stroke-width="1.6" stroke-linejoin="round" stroke-linecap="round" stroke-dasharray="4 3" stroke-linecap="butt"/>
<polyline points="492.5,243.9 496,265 498.9,288.3" fill="none" stroke="#e8a22c" stroke-width="1.6" stroke-linejoin="round" stroke-linecap="round" stroke-dasharray="4 3" stroke-linecap="butt"/>
<polyline points="412,276.7 417.2,312.8" fill="none" stroke="#cc78a8" stroke-width="1.6" stroke-linejoin="round" stroke-linecap="round" stroke-dasharray="4 3" stroke-linecap="butt"/>
<rect x="685.2" y="22" width="501.8" height="403.8" fill="none" stroke="#000" stroke-width="1.7"/>
<line x1="685.6" y1="425.8" x2="685.6" y2="418.4" stroke="#000" stroke-width="1.6" />
<line x1="685.6" y1="22" x2="685.6" y2="29.4" stroke="#000" stroke-width="1.6" />
<line x1="781.1" y1="425.8" x2="781.1" y2="418.4" stroke="#000" stroke-width="1.6" />
<line x1="781.1" y1="22" x2="781.1" y2="29.4" stroke="#000" stroke-width="1.6" />
<line x1="876.6" y1="425.8" x2="876.6" y2="418.4" stroke="#000" stroke-width="1.6" />
<line x1="876.6" y1="22" x2="876.6" y2="29.4" stroke="#000" stroke-width="1.6" />
<line x1="972.2" y1="425.8" x2="972.2" y2="418.4" stroke="#000" stroke-width="1.6" />
<line x1="972.2" y1="22" x2="972.2" y2="29.4" stroke="#000" stroke-width="1.6" />
<line x1="1067.7" y1="425.8" x2="1067.7" y2="418.4" stroke="#000" stroke-width="1.6" />
<line x1="1067.7" y1="22" x2="1067.7" y2="29.4" stroke="#000" stroke-width="1.6" />
<line x1="1163.2" y1="425.8" x2="1163.2" y2="418.4" stroke="#000" stroke-width="1.6" />
<line x1="1163.2" y1="22" x2="1163.2" y2="29.4" stroke="#000" stroke-width="1.6" />
<line x1="733.4" y1="425.8" x2="733.4" y2="421.8" stroke="#000" stroke-width="1.6" />
<line x1="733.4" y1="22" x2="733.4" y2="26" stroke="#000" stroke-width="1.6" />
<line x1="828.9" y1="425.8" x2="828.9" y2="421.8" stroke="#000" stroke-width="1.6" />
<line x1="828.9" y1="22" x2="828.9" y2="26" stroke="#000" stroke-width="1.6" />
<line x1="924.4" y1="425.8" x2="924.4" y2="421.8" stroke="#000" stroke-width="1.6" />
<line x1="924.4" y1="22" x2="924.4" y2="26" stroke="#000" stroke-width="1.6" />
<line x1="1019.9" y1="425.8" x2="1019.9" y2="421.8" stroke="#000" stroke-width="1.6" />
<line x1="1019.9" y1="22" x2="1019.9" y2="26" stroke="#000" stroke-width="1.6" />
<line x1="1115.4" y1="425.8" x2="1115.4" y2="421.8" stroke="#000" stroke-width="1.6" />
<line x1="1115.4" y1="22" x2="1115.4" y2="26" stroke="#000" stroke-width="1.6" />
<line x1="685.2" y1="425.8" x2="692.6" y2="425.8" stroke="#000" stroke-width="1.6" />
<line x1="1187" y1="425.8" x2="1179.6" y2="425.8" stroke="#000" stroke-width="1.6" />
<line x1="685.2" y1="330.8" x2="692.6" y2="330.8" stroke="#000" stroke-width="1.6" />
<line x1="1187" y1="330.8" x2="1179.6" y2="330.8" stroke="#000" stroke-width="1.6" />
<line x1="685.2" y1="235.8" x2="692.6" y2="235.8" stroke="#000" stroke-width="1.6" />
<line x1="1187" y1="235.8" x2="1179.6" y2="235.8" stroke="#000" stroke-width="1.6" />
<line x1="685.2" y1="140.8" x2="692.6" y2="140.8" stroke="#000" stroke-width="1.6" />
<line x1="1187" y1="140.8" x2="1179.6" y2="140.8" stroke="#000" stroke-width="1.6" />
<line x1="685.2" y1="45.8" x2="692.6" y2="45.8" stroke="#000" stroke-width="1.6" />
<line x1="1187" y1="45.8" x2="1179.6" y2="45.8" stroke="#000" stroke-width="1.6" />
<line x1="685.2" y1="378.3" x2="689.2" y2="378.3" stroke="#000" stroke-width="1.6" />
<line x1="1187" y1="378.3" x2="1183" y2="378.3" stroke="#000" stroke-width="1.6" />
<line x1="685.2" y1="283.3" x2="689.2" y2="283.3" stroke="#000" stroke-width="1.6" />
<line x1="1187" y1="283.3" x2="1183" y2="283.3" stroke="#000" stroke-width="1.6" />
<line x1="685.2" y1="188.3" x2="689.2" y2="188.3" stroke="#000" stroke-width="1.6" />
<line x1="1187" y1="188.3" x2="1183" y2="188.3" stroke="#000" stroke-width="1.6" />
<line x1="685.2" y1="93.3" x2="689.2" y2="93.3" stroke="#000" stroke-width="1.6" />
<line x1="1187" y1="93.3" x2="1183" y2="93.3" stroke="#000" stroke-width="1.6" />
<text transform="translate(678.5,432.2) scale(1.0000,1)" font-size="25.4" text-anchor="end" fill="#000">0.0</text>
<text transform="translate(678.5,337.2) scale(1.0000,1)" font-size="25.4" text-anchor="end" fill="#000">0.1</text>
<text transform="translate(678.5,242.2) scale(1.0000,1)" font-size="25.4" text-anchor="end" fill="#000">0.2</text>
<text transform="translate(678.5,147.2) scale(1.0000,1)" font-size="25.4" text-anchor="end" fill="#000">0.3</text>
<text transform="translate(678.5,52.2) scale(1.0000,1)" font-size="25.4" text-anchor="end" fill="#000">0.4</text>
<text transform="translate(690.6,452.5) scale(1.0000,1)" font-size="25.4" text-anchor="middle" fill="#000">0.0</text>
<text transform="translate(781.1,452.5) scale(1.0000,1)" font-size="25.4" text-anchor="middle" fill="#000">0.4</text>
<text transform="translate(876.6,452.5) scale(1.0000,1)" font-size="25.4" text-anchor="middle" fill="#000">0.8</text>
<text transform="translate(972.2,452.5) scale(1.0000,1)" font-size="25.4" text-anchor="middle" fill="#000">1.2</text>
<text transform="translate(1067.7,452.5) scale(1.0000,1)" font-size="25.4" text-anchor="middle" fill="#000">1.6</text>
<text transform="translate(1163.2,452.5) scale(1.0000,1)" font-size="25.4" text-anchor="middle" fill="#000">2.0</text>
<text transform="translate(605.9,42.4) scale(1.0400,1)" font-size="30.5" font-weight="normal" fill="#000"><tspan>b)</tspan></text>
<text transform="translate(632.5,208.2) rotate(-90) scale(1.045,1)" font-size="25.8" text-anchor="middle">-Im(Z) (Ohm)</text>
<text transform="translate(874,480.9) scale(1.0541,1)" font-size="26" font-weight="normal" fill="#000"><tspan>Re(Z) (Ohm)</tspan></text>
<polyline fill="none" stroke="#000" stroke-width="1.8" stroke-linejoin="miter" points="695,72.1 712.3,72.1 714.8,66.5 720.7,77.4 726.9,66.5 732.7,77.4 738.9,66.5 744.8,77.4 747.3,72.1 764,72.1"/>
<polyline fill="none" stroke="#000" stroke-width="1.8" stroke-linejoin="miter" points="798.9,49.6 764,49.6 764,90.9 781,90.9 783.4,85.7 789.6,97.5 795.8,85.7 801.4,97.5 807.6,85.7 813.1,97.5 815.6,90.9 833,90.9 833,49.6 808.8,49.6"/>
<polyline fill="none" stroke="#000" stroke-width="1.8" stroke-linejoin="miter" points="791.5,35.6 798.9,49.6 791.5,63.4"/>
<polyline fill="none" stroke="#000" stroke-width="1.8" stroke-linejoin="miter" points="801.1,35.6 808.8,49.6 801.1,63.4"/>
<line x1="833" y1="72.1" x2="849" y2="72.1" stroke="#000" stroke-width="1.8"/>
<polyline fill="none" stroke="#000" stroke-width="1.8" stroke-linejoin="miter" points="883.9,49.3 849,49.3 849,90.9 865.7,90.9 868,85.9 874.3,97.3 879.9,85.9 885.8,97.3 891.8,85.9 897.7,97.3 900.2,91.4 900.8,90.9 917.5,90.9 917.5,49.3 893.8,49.3"/>
<polyline fill="none" stroke="#000" stroke-width="1.8" stroke-linejoin="miter" points="876.4,35.4 883.9,49.3 876.4,63.2"/>
<polyline fill="none" stroke="#000" stroke-width="1.8" stroke-linejoin="miter" points="886.1,35.4 893.8,49.3 886.1,63.2"/>
<text transform="translate(695.7,127.3) scale(1.0560,1)" font-size="25.3" font-weight="normal" fill="#000"><tspan>j = 50 mA•cm</tspan><tspan font-size="15" dy="-10">-2</tspan></text>
<rect x="1079.1" y="42.1" width="8.6" height="8.6" fill="#000"/>
<line x1="1067.3" y1="75.4" x2="1096.3" y2="75.4" stroke="#000" stroke-width="1.7" />
<text transform="translate(1103.1,53.7) scale(1.0867,1)" font-size="25.3" font-weight="normal" fill="#000"><tspan>Raw</tspan></text>
<text transform="translate(1104.5,84) scale(1.1320,1)" font-size="25.3" font-weight="normal" fill="#000"><tspan>Fit</tspan></text>
<rect x="708.5" y="411.8" width="8.7" height="8.7" fill="#58b3e6"/>
<rect x="712.9" y="383.9" width="8.7" height="8.7" fill="#58b3e6"/>
<rect x="719.2" y="372.1" width="8.7" height="8.7" fill="#58b3e6"/>
<rect x="724.6" y="370" width="8.7" height="8.7" fill="#58b3e6"/>
<rect x="736.4" y="349.6" width="8.7" height="8.7" fill="#58b3e6"/>
<rect x="742.9" y="331.4" width="8.7" height="8.7" fill="#58b3e6"/>
<rect x="752.5" y="315.3" width="8.7" height="8.7" fill="#58b3e6"/>
<rect x="761.6" y="299.6" width="8.7" height="8.7" fill="#58b3e6"/>
<rect x="778.2" y="286.3" width="8.7" height="8.7" fill="#58b3e6"/>
<rect x="791.1" y="273.3" width="8.7" height="8.7" fill="#58b3e6"/>
<rect x="804" y="269" width="8.7" height="8.7" fill="#58b3e6"/>
<rect x="819.8" y="253" width="8.7" height="8.7" fill="#58b3e6"/>
<rect x="836.2" y="219.2" width="8.7" height="8.7" fill="#58b3e6"/>
<rect x="856.6" y="188.7" width="8.7" height="8.7" fill="#58b3e6"/>
<rect x="882.4" y="148.8" width="8.7" height="8.7" fill="#58b3e6"/>
<rect x="910.1" y="105.2" width="8.7" height="8.7" fill="#58b3e6"/>
<rect x="946" y="81.8" width="8.7" height="8.7" fill="#58b3e6"/>
<rect x="984.6" y="57.8" width="8.7" height="8.7" fill="#58b3e6"/>
<rect x="1030.4" y="85.5" width="8.7" height="8.7" fill="#58b3e6"/>
<rect x="1060.9" y="105.4" width="8.7" height="8.7" fill="#58b3e6"/>
<rect x="1084.4" y="190.6" width="8.7" height="8.7" fill="#58b3e6"/>
<rect x="1109.4" y="283.8" width="8.7" height="8.7" fill="#58b3e6"/>
<rect x="1140.7" y="320.4" width="8.7" height="8.7" fill="#58b3e6"/>
<rect x="1136.4" y="327.6" width="8.7" height="8.7" fill="#58b3e6"/>
<rect x="753.6" y="374.3" width="8.7" height="8.7" fill="#1271b0"/>
<rect x="762.1" y="352.4" width="8.7" height="8.7" fill="#1271b0"/>
<rect x="771.1" y="345.3" width="8.7" height="8.7" fill="#1271b0"/>
<rect x="778.9" y="328.2" width="8.7" height="8.7" fill="#1271b0"/>
<rect x="786.1" y="313.8" width="8.7" height="8.7" fill="#1271b0"/>
<rect x="799.8" y="295.3" width="8.7" height="8.7" fill="#1271b0"/>
<rect x="812.6" y="281" width="8.7" height="8.7" fill="#1271b0"/>
<rect x="828.2" y="255.5" width="8.7" height="8.7" fill="#1271b0"/>
<rect x="846.4" y="238.8" width="8.7" height="8.7" fill="#1271b0"/>
<rect x="864.4" y="233.1" width="8.7" height="8.7" fill="#1271b0"/>
<rect x="886" y="228.7" width="8.7" height="8.7" fill="#1271b0"/>
<rect x="904.4" y="232.6" width="8.7" height="8.7" fill="#1271b0"/>
<rect x="920.6" y="235.8" width="8.7" height="8.7" fill="#1271b0"/>
<rect x="937.9" y="238.8" width="8.7" height="8.7" fill="#1271b0"/>
<rect x="955.4" y="239.5" width="8.7" height="8.7" fill="#1271b0"/>
<rect x="974" y="234.8" width="8.7" height="8.7" fill="#1271b0"/>
<rect x="993.8" y="226.5" width="8.7" height="8.7" fill="#1271b0"/>
<rect x="1020.7" y="243.3" width="8.7" height="8.7" fill="#1271b0"/>
<rect x="1035.5" y="232.6" width="8.7" height="8.7" fill="#1271b0"/>
<rect x="1054.9" y="254.2" width="8.7" height="8.7" fill="#1271b0"/>
<rect x="1071.6" y="281.5" width="8.7" height="8.7" fill="#1271b0"/>
<rect x="1082.4" y="341.4" width="8.7" height="8.7" fill="#1271b0"/>
<rect x="1093.2" y="351.3" width="8.7" height="8.7" fill="#1271b0"/>
<rect x="1088.9" y="383.1" width="8.7" height="8.7" fill="#1271b0"/>
<rect x="1090" y="393.9" width="8.7" height="8.7" fill="#1271b0"/>
<rect x="728.6" y="400.6" width="8.7" height="8.7" fill="#16a074"/>
<rect x="731" y="396.6" width="8.7" height="8.7" fill="#16a074"/>
<rect x="733.1" y="391.6" width="8.7" height="8.7" fill="#16a074"/>
<rect x="735.1" y="386.6" width="8.7" height="8.7" fill="#16a074"/>
<rect x="737.1" y="381.6" width="8.7" height="8.7" fill="#16a074"/>
<rect x="739.1" y="376.6" width="8.7" height="8.7" fill="#16a074"/>
<rect x="741.6" y="370.6" width="8.7" height="8.7" fill="#16a074"/>
<rect x="745.1" y="365.1" width="8.7" height="8.7" fill="#16a074"/>
<rect x="748.6" y="351.6" width="8.7" height="8.7" fill="#16a074"/>
<rect x="752.5" y="334.6" width="8.7" height="8.7" fill="#16a074"/>
<rect x="756.1" y="321.6" width="8.7" height="8.7" fill="#16a074"/>
<rect x="761" y="308.9" width="8.7" height="8.7" fill="#16a074"/>
<rect x="770.8" y="274.6" width="8.7" height="8.7" fill="#16a074"/>
<rect x="785.9" y="242.2" width="8.7" height="8.7" fill="#16a074"/>
<rect x="808.4" y="197.7" width="8.7" height="8.7" fill="#16a074"/>
<rect x="835.5" y="174.1" width="8.7" height="8.7" fill="#16a074"/>
<rect x="865.6" y="179.7" width="8.7" height="8.7" fill="#16a074"/>
<rect x="892.4" y="211.2" width="8.7" height="8.7" fill="#16a074"/>
<rect x="909.9" y="252" width="8.7" height="8.7" fill="#16a074"/>
<rect x="922.8" y="282" width="8.7" height="8.7" fill="#16a074"/>
<rect x="935.9" y="319.6" width="8.7" height="8.7" fill="#16a074"/>
<rect x="940.8" y="302" width="8.7" height="8.7" fill="#16a074"/>
<rect x="935.4" y="320.4" width="8.7" height="8.7" fill="#16a074"/>
<rect x="955.9" y="306.4" width="8.7" height="8.7" fill="#16a074"/>
<rect x="964.9" y="338.4" width="8.7" height="8.7" fill="#16a074"/>
<rect x="973.6" y="327.6" width="8.7" height="8.7" fill="#16a074"/>
<rect x="989.4" y="392.4" width="8.7" height="8.7" fill="#16a074"/>
<rect x="974.2" y="411.2" width="8.7" height="8.7" fill="#16a074"/>
<rect x="708.5" y="405.4" width="8.7" height="8.7" fill="#d0612a"/>
<rect x="711.8" y="391.4" width="8.7" height="8.7" fill="#d0612a"/>
<rect x="721.4" y="378.6" width="8.7" height="8.7" fill="#d0612a"/>
<rect x="726.8" y="361.4" width="8.7" height="8.7" fill="#d0612a"/>
<rect x="739.6" y="337.8" width="8.7" height="8.7" fill="#d0612a"/>
<rect x="749.2" y="323.9" width="8.7" height="8.7" fill="#d0612a"/>
<rect x="757.9" y="301.3" width="8.7" height="8.7" fill="#d0612a"/>
<rect x="787.9" y="246.2" width="8.7" height="8.7" fill="#d0612a"/>
<rect x="805.1" y="214.8" width="8.7" height="8.7" fill="#d0612a"/>
<rect x="828.2" y="181.8" width="8.7" height="8.7" fill="#d0612a"/>
<rect x="856.1" y="159.7" width="8.7" height="8.7" fill="#d0612a"/>
<rect x="884" y="156.5" width="8.7" height="8.7" fill="#d0612a"/>
<rect x="913.4" y="169.8" width="8.7" height="8.7" fill="#d0612a"/>
<rect x="939" y="191.2" width="8.7" height="8.7" fill="#d0612a"/>
<rect x="964.2" y="219.1" width="8.7" height="8.7" fill="#d0612a"/>
<rect x="978.1" y="245.5" width="8.7" height="8.7" fill="#d0612a"/>
<rect x="991.1" y="308.5" width="8.7" height="8.7" fill="#d0612a"/>
<rect x="999.8" y="363.6" width="8.7" height="8.7" fill="#d0612a"/>
<rect x="1008.4" y="381.6" width="8.7" height="8.7" fill="#d0612a"/>
<rect x="708.5" y="394.8" width="8.7" height="8.7" fill="#e8a22c"/>
<rect x="719.2" y="402.2" width="8.7" height="8.7" fill="#e8a22c"/>
<rect x="723.5" y="389.3" width="8.7" height="8.7" fill="#e8a22c"/>
<rect x="733.2" y="371.1" width="8.7" height="8.7" fill="#e8a22c"/>
<rect x="745" y="370" width="8.7" height="8.7" fill="#e8a22c"/>
<rect x="752.5" y="358.2" width="8.7" height="8.7" fill="#e8a22c"/>
<rect x="755.8" y="342.1" width="8.7" height="8.7" fill="#e8a22c"/>
<rect x="763.2" y="303.5" width="8.7" height="8.7" fill="#e8a22c"/>
<rect x="771.9" y="287.4" width="8.7" height="8.7" fill="#e8a22c"/>
<rect x="785.9" y="243.3" width="8.7" height="8.7" fill="#e8a22c"/>
<rect x="804.4" y="192.2" width="8.7" height="8.7" fill="#e8a22c"/>
<rect x="840.6" y="145.8" width="8.7" height="8.7" fill="#e8a22c"/>
<rect x="865.6" y="136.6" width="8.7" height="8.7" fill="#e8a22c"/>
<rect x="882.4" y="148.8" width="8.7" height="8.7" fill="#e8a22c"/>
<rect x="896.9" y="158.2" width="8.7" height="8.7" fill="#e8a22c"/>
<rect x="921.4" y="198.5" width="8.7" height="8.7" fill="#e8a22c"/>
<rect x="948.1" y="250.7" width="8.7" height="8.7" fill="#e8a22c"/>
<rect x="956.9" y="312.9" width="8.7" height="8.7" fill="#e8a22c"/>
<rect x="958" y="376.6" width="8.7" height="8.7" fill="#e8a22c"/>
<rect x="962.9" y="399.3" width="8.7" height="8.7" fill="#e8a22c"/>
<rect x="708.5" y="404.3" width="8.7" height="8.7" fill="#cc78a8"/>
<rect x="712.9" y="382.9" width="8.7" height="8.7" fill="#cc78a8"/>
<rect x="720.4" y="362.5" width="8.7" height="8.7" fill="#cc78a8"/>
<rect x="727.9" y="349.6" width="8.7" height="8.7" fill="#cc78a8"/>
<rect x="735.4" y="334" width="8.7" height="8.7" fill="#cc78a8"/>
<rect x="750.4" y="326" width="8.7" height="8.7" fill="#cc78a8"/>
<rect x="760" y="330.3" width="8.7" height="8.7" fill="#cc78a8"/>
<rect x="768.6" y="333.1" width="8.7" height="8.7" fill="#cc78a8"/>
<rect x="778.2" y="348.5" width="8.7" height="8.7" fill="#cc78a8"/>
<rect x="785.8" y="357.1" width="8.7" height="8.7" fill="#cc78a8"/>
<rect x="791.1" y="372.1" width="8.7" height="8.7" fill="#cc78a8"/>
<rect x="796.4" y="365.8" width="8.7" height="8.7" fill="#cc78a8"/>
<rect x="799" y="355" width="8.7" height="8.7" fill="#cc78a8"/>
<rect x="805" y="326" width="8.7" height="8.7" fill="#cc78a8"/>
<rect x="813.6" y="294.5" width="8.7" height="8.7" fill="#cc78a8"/>
<rect x="826.1" y="241.8" width="8.7" height="8.7" fill="#cc78a8"/>
<rect x="848.6" y="196.6" width="8.7" height="8.7" fill="#cc78a8"/>
<rect x="878.5" y="173.2" width="8.7" height="8.7" fill="#cc78a8"/>
<rect x="909.9" y="189.7" width="8.7" height="8.7" fill="#cc78a8"/>
<rect x="929.9" y="246" width="8.7" height="8.7" fill="#cc78a8"/>
<rect x="951.5" y="292.3" width="8.7" height="8.7" fill="#cc78a8"/>
<rect x="947.2" y="334.5" width="8.7" height="8.7" fill="#cc78a8"/>
<rect x="952.6" y="392.4" width="8.7" height="8.7" fill="#cc78a8"/>
<rect x="959.1" y="413.4" width="8.7" height="8.7" fill="#cc78a8"/>
<polyline points="712.9,413 720,392 730,372 745,345 760,318 780,296 797,281 812,268 826,250 845,222 866,186 888,152 914.9,110.9 951.2,75.5 990,65.3 1035,87.2 1067.3,128 1093,181.6 1107.2,220 1118,241.6 1128.8,284.8 1138.6,323.7 1142.9,327" fill="none" stroke="#58b3e6" stroke-width="1.6" stroke-linejoin="round" stroke-linecap="round" />
<polyline points="761,369 769,350 780,332 795,313 810,297 826,274 840,256 854.4,243.8 876,236.6 897.6,233.8 919.2,237.4 940.8,239.5 958.1,239.9 975.4,236.2 994.8,228.6 1018.6,224.8 1042.4,238.4 1059.7,258.9 1072.6,293.5 1085.6,338.9 1096.4,388.6" fill="none" stroke="#1271b0" stroke-width="1.6" stroke-linejoin="round" stroke-linecap="round" />
<polyline points="736,406 745,386 755,352 765,318 775,287 790,250 812,205 838,180 869,185 896,214 914,251 930,280.5 951.6,310.8 968.9,341 990.5,381" fill="none" stroke="#16a074" stroke-width="1.6" stroke-linejoin="round" stroke-linecap="round" />
<polyline points="713,407 722,385 735,357 750,330 763,306 778,280 792,252 809.5,221 832,187 860.2,163.2 886.1,156 900.5,160.3 919.2,167.5 945.1,197.8 966.7,229.4 984,274 994.8,306.4 1003.5,336.7 1010,363.7" fill="none" stroke="#d0612a" stroke-width="1.6" stroke-linejoin="round" stroke-linecap="round" />
<polyline points="715,408 727,398 740,388 750,372 758,350 766,318 775,292 790,250 808,200 830,168 845.8,150.2 870.2,140.2 886.1,152.4 903.4,163.2 914.9,184.8 926.4,206.4 935,229.4 943,263.2 955.9,306.4 962.4,338.9 967.8,377.8" fill="none" stroke="#e8a22c" stroke-width="1.6" stroke-linejoin="round" stroke-linecap="round" />
<polyline points="713,402 718,381 725,365 735,346 750,333 762,332 772,340 782,352 790,365 797,374 802,366 807,340 812,313 820,290 831,250 854.4,200.6 883.2,180.5 912,202.1 922.1,228 933.6,258.2 940.8,274 951.6,317.3 958.1,349.7 962.4,392.9" fill="none" stroke="#cc78a8" stroke-width="1.6" stroke-linejoin="round" stroke-linecap="round" />
<text transform="translate(966.8,148.4) scale(1.0350,1)" font-size="26" font-weight="bold" fill="#58b3e6"><tspan>NiCoO</tspan><tspan font-size="15.5" dy="9">2</tspan></text>
<text transform="translate(982.9,218.1) scale(1.0165,1)" font-size="26" font-weight="bold" fill="#1271b0"><tspan>NiFe</tspan><tspan font-size="15.5" dy="9">2</tspan><tspan dy="-9">O</tspan><tspan font-size="15.5" dy="9">4</tspan></text>
<text transform="translate(707.1,225.2) scale(1.0095,1)" font-size="26" font-weight="bold" fill="#e8a22c"><tspan>Co</tspan><tspan font-size="15.5" dy="9">3</tspan><tspan dy="-9">O</tspan><tspan font-size="15.5" dy="9">4</tspan></text>
<text transform="translate(829.1,327.2) scale(1.0120,1)" font-size="26" font-weight="bold" fill="#cc78a8"><tspan>IrO</tspan><tspan font-size="15.5" dy="9">2</tspan></text>
<text transform="translate(1012.5,338.4) scale(1.0350,1)" font-size="26" font-weight="bold" fill="#d0612a"><tspan>NiO</tspan></text>
<text transform="translate(769,409.8) scale(1.0214,1)" font-size="26" font-weight="bold" fill="#16a074"><tspan>Ni</tspan><tspan font-size="15.5" dy="9">0.5</tspan><tspan dy="-9">Co</tspan><tspan font-size="15.5" dy="9">0.5</tspan><tspan dy="-9">Fe</tspan><tspan font-size="15.5" dy="9">2</tspan><tspan dy="-9">O</tspan><tspan font-size="15.5" dy="9">4</tspan></text>
<rect x="90.6" y="499.5" width="502.4" height="403.8" fill="none" stroke="#000" stroke-width="1.7"/>
<line x1="102.7" y1="903.3" x2="102.7" y2="895.9" stroke="#000" stroke-width="1.6" />
<line x1="102.7" y1="499.5" x2="102.7" y2="506.9" stroke="#000" stroke-width="1.6" />
<line x1="151.7" y1="903.3" x2="151.7" y2="895.9" stroke="#000" stroke-width="1.6" />
<line x1="151.7" y1="499.5" x2="151.7" y2="506.9" stroke="#000" stroke-width="1.6" />
<line x1="200.8" y1="903.3" x2="200.8" y2="895.9" stroke="#000" stroke-width="1.6" />
<line x1="200.8" y1="499.5" x2="200.8" y2="506.9" stroke="#000" stroke-width="1.6" />
<line x1="249.8" y1="903.3" x2="249.8" y2="895.9" stroke="#000" stroke-width="1.6" />
<line x1="249.8" y1="499.5" x2="249.8" y2="506.9" stroke="#000" stroke-width="1.6" />
<line x1="298.9" y1="903.3" x2="298.9" y2="895.9" stroke="#000" stroke-width="1.6" />
<line x1="298.9" y1="499.5" x2="298.9" y2="506.9" stroke="#000" stroke-width="1.6" />
<line x1="347.9" y1="903.3" x2="347.9" y2="895.9" stroke="#000" stroke-width="1.6" />
<line x1="347.9" y1="499.5" x2="347.9" y2="506.9" stroke="#000" stroke-width="1.6" />
<line x1="396.9" y1="903.3" x2="396.9" y2="895.9" stroke="#000" stroke-width="1.6" />
<line x1="396.9" y1="499.5" x2="396.9" y2="506.9" stroke="#000" stroke-width="1.6" />
<line x1="446" y1="903.3" x2="446" y2="895.9" stroke="#000" stroke-width="1.6" />
<line x1="446" y1="499.5" x2="446" y2="506.9" stroke="#000" stroke-width="1.6" />
<line x1="495" y1="903.3" x2="495" y2="895.9" stroke="#000" stroke-width="1.6" />
<line x1="495" y1="499.5" x2="495" y2="506.9" stroke="#000" stroke-width="1.6" />
<line x1="544.1" y1="903.3" x2="544.1" y2="895.9" stroke="#000" stroke-width="1.6" />
<line x1="544.1" y1="499.5" x2="544.1" y2="506.9" stroke="#000" stroke-width="1.6" />
<line x1="593.1" y1="903.3" x2="593.1" y2="895.9" stroke="#000" stroke-width="1.6" />
<line x1="593.1" y1="499.5" x2="593.1" y2="506.9" stroke="#000" stroke-width="1.6" />
<line x1="127.2" y1="903.3" x2="127.2" y2="899.3" stroke="#000" stroke-width="1.6" />
<line x1="127.2" y1="499.5" x2="127.2" y2="503.5" stroke="#000" stroke-width="1.6" />
<line x1="176.3" y1="903.3" x2="176.3" y2="899.3" stroke="#000" stroke-width="1.6" />
<line x1="176.3" y1="499.5" x2="176.3" y2="503.5" stroke="#000" stroke-width="1.6" />
<line x1="225.3" y1="903.3" x2="225.3" y2="899.3" stroke="#000" stroke-width="1.6" />
<line x1="225.3" y1="499.5" x2="225.3" y2="503.5" stroke="#000" stroke-width="1.6" />
<line x1="274.3" y1="903.3" x2="274.3" y2="899.3" stroke="#000" stroke-width="1.6" />
<line x1="274.3" y1="499.5" x2="274.3" y2="503.5" stroke="#000" stroke-width="1.6" />
<line x1="323.4" y1="903.3" x2="323.4" y2="899.3" stroke="#000" stroke-width="1.6" />
<line x1="323.4" y1="499.5" x2="323.4" y2="503.5" stroke="#000" stroke-width="1.6" />
<line x1="372.4" y1="903.3" x2="372.4" y2="899.3" stroke="#000" stroke-width="1.6" />
<line x1="372.4" y1="499.5" x2="372.4" y2="503.5" stroke="#000" stroke-width="1.6" />
<line x1="421.5" y1="903.3" x2="421.5" y2="899.3" stroke="#000" stroke-width="1.6" />
<line x1="421.5" y1="499.5" x2="421.5" y2="503.5" stroke="#000" stroke-width="1.6" />
<line x1="470.5" y1="903.3" x2="470.5" y2="899.3" stroke="#000" stroke-width="1.6" />
<line x1="470.5" y1="499.5" x2="470.5" y2="503.5" stroke="#000" stroke-width="1.6" />
<line x1="519.5" y1="903.3" x2="519.5" y2="899.3" stroke="#000" stroke-width="1.6" />
<line x1="519.5" y1="499.5" x2="519.5" y2="503.5" stroke="#000" stroke-width="1.6" />
<line x1="568.6" y1="903.3" x2="568.6" y2="899.3" stroke="#000" stroke-width="1.6" />
<line x1="568.6" y1="499.5" x2="568.6" y2="503.5" stroke="#000" stroke-width="1.6" />
<line x1="90.6" y1="904.1" x2="98" y2="904.1" stroke="#000" stroke-width="1.6" />
<line x1="593" y1="904.1" x2="585.6" y2="904.1" stroke="#000" stroke-width="1.6" />
<line x1="90.6" y1="856.4" x2="98" y2="856.4" stroke="#000" stroke-width="1.6" />
<line x1="593" y1="856.4" x2="585.6" y2="856.4" stroke="#000" stroke-width="1.6" />
<line x1="90.6" y1="808.7" x2="98" y2="808.7" stroke="#000" stroke-width="1.6" />
<line x1="593" y1="808.7" x2="585.6" y2="808.7" stroke="#000" stroke-width="1.6" />
<line x1="90.6" y1="760.9" x2="98" y2="760.9" stroke="#000" stroke-width="1.6" />
<line x1="593" y1="760.9" x2="585.6" y2="760.9" stroke="#000" stroke-width="1.6" />
<line x1="90.6" y1="713.2" x2="98" y2="713.2" stroke="#000" stroke-width="1.6" />
<line x1="593" y1="713.2" x2="585.6" y2="713.2" stroke="#000" stroke-width="1.6" />
<line x1="90.6" y1="665.4" x2="98" y2="665.4" stroke="#000" stroke-width="1.6" />
<line x1="593" y1="665.4" x2="585.6" y2="665.4" stroke="#000" stroke-width="1.6" />
<line x1="90.6" y1="617.7" x2="98" y2="617.7" stroke="#000" stroke-width="1.6" />
<line x1="593" y1="617.7" x2="585.6" y2="617.7" stroke="#000" stroke-width="1.6" />
<line x1="90.6" y1="570" x2="98" y2="570" stroke="#000" stroke-width="1.6" />
<line x1="593" y1="570" x2="585.6" y2="570" stroke="#000" stroke-width="1.6" />
<line x1="90.6" y1="522.2" x2="98" y2="522.2" stroke="#000" stroke-width="1.6" />
<line x1="593" y1="522.2" x2="585.6" y2="522.2" stroke="#000" stroke-width="1.6" />
<line x1="90.6" y1="880.3" x2="94.6" y2="880.3" stroke="#000" stroke-width="1.6" />
<line x1="593" y1="880.3" x2="589" y2="880.3" stroke="#000" stroke-width="1.6" />
<line x1="90.6" y1="832.5" x2="94.6" y2="832.5" stroke="#000" stroke-width="1.6" />
<line x1="593" y1="832.5" x2="589" y2="832.5" stroke="#000" stroke-width="1.6" />
<line x1="90.6" y1="784.8" x2="94.6" y2="784.8" stroke="#000" stroke-width="1.6" />
<line x1="593" y1="784.8" x2="589" y2="784.8" stroke="#000" stroke-width="1.6" />
<line x1="90.6" y1="737" x2="94.6" y2="737" stroke="#000" stroke-width="1.6" />
<line x1="593" y1="737" x2="589" y2="737" stroke="#000" stroke-width="1.6" />
<line x1="90.6" y1="689.3" x2="94.6" y2="689.3" stroke="#000" stroke-width="1.6" />
<line x1="593" y1="689.3" x2="589" y2="689.3" stroke="#000" stroke-width="1.6" />
<line x1="90.6" y1="641.6" x2="94.6" y2="641.6" stroke="#000" stroke-width="1.6" />
<line x1="593" y1="641.6" x2="589" y2="641.6" stroke="#000" stroke-width="1.6" />
<line x1="90.6" y1="593.8" x2="94.6" y2="593.8" stroke="#000" stroke-width="1.6" />
<line x1="593" y1="593.8" x2="589" y2="593.8" stroke="#000" stroke-width="1.6" />
<line x1="90.6" y1="546.1" x2="94.6" y2="546.1" stroke="#000" stroke-width="1.6" />
<line x1="593" y1="546.1" x2="589" y2="546.1" stroke="#000" stroke-width="1.6" />
<text transform="translate(82.9,910.5) scale(1.0000,1)" font-size="25.4" text-anchor="end" fill="#000">1.8</text>
<text transform="translate(82.9,862.8) scale(1.0000,1)" font-size="25.4" text-anchor="end" fill="#000">2.0</text>
<text transform="translate(82.9,815.1) scale(1.0000,1)" font-size="25.4" text-anchor="end" fill="#000">2.2</text>
<text transform="translate(82.9,767.3) scale(1.0000,1)" font-size="25.4" text-anchor="end" fill="#000">2.4</text>
<text transform="translate(82.9,719.6) scale(1.0000,1)" font-size="25.4" text-anchor="end" fill="#000">2.6</text>
<text transform="translate(82.9,671.8) scale(1.0000,1)" font-size="25.4" text-anchor="end" fill="#000">2.8</text>
<text transform="translate(82.9,624.1) scale(1.0000,1)" font-size="25.4" text-anchor="end" fill="#000">3.0</text>
<text transform="translate(82.9,576.4) scale(1.0000,1)" font-size="25.4" text-anchor="end" fill="#000">3.2</text>
<text transform="translate(82.9,528.6) scale(1.0000,1)" font-size="25.4" text-anchor="end" fill="#000">3.4</text>
<text transform="translate(102.7,932) scale(1.0000,1)" font-size="25.4" text-anchor="middle" fill="#000">0</text>
<text transform="translate(151.7,932) scale(1.0000,1)" font-size="25.4" text-anchor="middle" fill="#000">2</text>
<text transform="translate(200.8,932) scale(1.0000,1)" font-size="25.4" text-anchor="middle" fill="#000">4</text>
<text transform="translate(249.8,932) scale(1.0000,1)" font-size="25.4" text-anchor="middle" fill="#000">6</text>
<text transform="translate(298.9,932) scale(1.0000,1)" font-size="25.4" text-anchor="middle" fill="#000">8</text>
<text transform="translate(347.9,932) scale(1.0000,1)" font-size="25.4" text-anchor="middle" fill="#000">10</text>
<text transform="translate(396.9,932) scale(1.0000,1)" font-size="25.4" text-anchor="middle" fill="#000">12</text>
<text transform="translate(446,932) scale(1.0000,1)" font-size="25.4" text-anchor="middle" fill="#000">14</text>
<text transform="translate(495,932) scale(1.0000,1)" font-size="25.4" text-anchor="middle" fill="#000">16</text>
<text transform="translate(544.1,932) scale(1.0000,1)" font-size="25.4" text-anchor="middle" fill="#000">18</text>
<text transform="translate(588,932) scale(1.0000,1)" font-size="25.4" text-anchor="middle" fill="#000">20</text>
<text transform="translate(12.9,519) scale(1.1251,1)" font-size="31" font-weight="normal" fill="#000"><tspan>c)</tspan></text>
<text transform="translate(36.5,699.4) rotate(-90) scale(1.0,1)" font-size="27" text-anchor="middle">E (V)</text>
<text transform="translate(337.9,962.4) scale(1.0552,1)" font-size="26" font-weight="normal" fill="#000"><tspan>Time (h)</tspan></text>
<text transform="translate(392.3,532.7) scale(1.0593,1)" font-size="25.3" font-weight="normal" fill="#000"><tspan>j = 500 mA•cm</tspan><tspan font-size="15" dy="-10">-2</tspan></text>
<polyline points="102.7,730.9 104.6,710.8 108.1,694.2 111.7,680 115.9,662.3 122.3,632.3 127.7,612.6" fill="none" stroke="#1271b0" stroke-width="4.2" stroke-linejoin="round" stroke-linecap="round" />
<polyline points="128.8,595.8 126.4,588.3 128.3,597 133,584 139.5,565.8 145.9,540 150.2,530.4 156.6,518.6 160,508 162.5,499.5" fill="none" stroke="#1271b0" stroke-width="4.2" stroke-linejoin="round" stroke-linecap="round" />
<polyline points="102.7,788.9 102.9,819.7" fill="none" stroke="#16a074" stroke-width="4.2" stroke-linejoin="round" stroke-linecap="round" />
<polyline points="102.9,819.7 106,818.4 108.8,816.9 111.7,814.6 114,813.4 116.4,812.9 118.8,811.6 121.1,810.4 122.9,808.3 124.7,806.7 126.5,805 128.3,803.2 128.3,805.7 128.3,808.9 128.4,805.9 128.4,803.2 128.5,800.4 130.8,798.3 133.1,795.8 135.4,793.6 137.8,792 140.1,790.3 142.5,788.9 144.8,787.9 147.2,786.3 149.2,784.4 151.1,782.9 153.1,780.6 155.1,778.7 157,776.4 159,774.3 161.4,773.4 163.8,772 166.1,771.2 168.5,770.4 170.9,769 173.3,766.9 175.6,766 178,764.4 180.3,762.8 182.7,761.5 185.1,759.8 187.4,758.4 190.6,757.2 193.7,757 196.9,756.2 198.9,753.9 200.9,752.9 202.9,751.2 204.8,749.4 206.8,747.9 208.8,746.3 211.8,745.8 214.7,744.5 217.7,743.9 220.6,742.6 223,742.1 225.3,741.1 227.7,739.7 230.1,738.8 232.4,738.2 234.8,737 237.3,736 239.9,734.9 242.4,734.2 244.9,733.7 247.5,732.4 250,732.3 252.4,730.8 254.8,730.5 257.2,729.1 259.6,728.8 261.9,727.6 264.3,726.6 266.7,725.7 269.1,724.9 271.5,724 273.9,722.8 276.3,721.9 278.7,721.4 281.1,720.9 283.5,719.8 285.9,718.5 288.2,718.4 290.6,717.5 293,716.8 295.4,715.4 297.8,715 300.2,713.6 300.6,710.6 301,706.8 302.5,709.6 305.3,709.9 307.9,708.8 310.4,708.7 313,708.6 315.6,707.6 318.1,707.1 320.7,707.3 323.2,706.4 325.8,706.3 328.4,705.2 330.9,705 333.5,704.4 336.1,704.4 338.6,703.5 341.2,703.8 343.8,702.7 346.3,703 348.9,702 351.4,701.9 354,702.1 356.5,701.2 359.1,700.9 361.6,701.1 364.2,700.5 366.8,699.8 369.3,700.4 371.9,699.3 374.4,698.9 377,698.8 379.5,698.8 382.1,698.6 384.6,697.7 387.2,697.6 389.7,697 392.3,697.1 394.9,697.1 397.4,696.8 400,696.7 402.5,696.3 405.1,696.1 407.7,695.7 410.2,695.3 412.8,694.8 415.3,694.9 417.9,694.3 420.5,693.9 423,693.9 425.6,694.1 428.1,693.1 430.7,693.3 433.3,692.8 435.8,692.7 438.4,692.1 440.9,692.6 443.5,691.7 446.1,691.8 448.6,691.4 451.2,690.9 453.7,691.2 456.3,690.6 458.8,690.4 461.4,690.2 463.9,690.1 466.5,689.8 469.1,690.1 471.6,689.8 474.2,690.1 476.7,689.8 479.3,689.7 481.8,688.8 484.4,688.8 486.9,688.4 489.5,688.6 492,688.4 494.6,688.4 497.1,688.1 499.7,687.6 502.2,687.6 504.8,687.5 507.3,686.9 509.8,686.8 512.4,687 514.9,686.6 517.5,687 520,686.4 522.6,686.1 525.2,686 527.7,685.9 530.3,685.7 532.9,685.8 535.5,685.6 538.1,685.3 540.6,685.4 543.2,684.9 545.8,685.4 548.3,685 550.9,684.4 553.4,683.7 556,683.4 558.5,683.1 561.2,682.6 563.8,682.9 566.5,683 569.1,682.7 571.8,682.6 574.4,683.3 577.1,682.9 579.7,683 582.4,683.4 585,683.1 587.7,682.8 590.3,683.4 593,683" fill="none" stroke="#16a074" stroke-width="4.2" stroke-linejoin="round" stroke-linecap="round" />
<polyline points="102.7,809 104.2,805.8 105.8,803.1 109,799.9 111,798.6 113,797.1 116.4,793.2 118.8,795.6 121.1,798.7 123.5,798.7 126,799.3 128.3,798.8 130.7,797.1 133.1,796.3 135.4,794.8 137.8,793.9 140.1,792.5 142.5,791.9 144.8,791.1 147.2,789.7 149.5,788.9 151.9,787.9 154.6,786.8 157.3,786.9 160,786.3 162.8,785.5 165.5,784.8 168.2,785 170.9,784.2 173.5,784.1 176,783.9 178.6,783.5 181.2,783.4 183.7,782.6 186.3,782.7 188.9,782.1 191.4,782.2 194,781.8 196.6,780.8 199.1,780.6 201.7,780.3 204.3,780.9 206.8,780.3 209.4,780.4 212,780 214.6,780.1 217.1,779.8 219.7,779.7 222.3,779.8 224.9,779.7 227.4,779.9 230,779.6 232.5,779.7 235,779.6 237.5,779.6 240,779.3 242.5,778.7 245,779.3 247.5,779.3 250,779.2 252.6,778.7 255.3,778.6 257.9,777.9 260.5,778.3 263.2,777.8 265.8,777.3 268.4,776.9 271.1,777.4 273.7,777.3 276.4,776.3 279,776.7 281.6,776.2 284.3,775.7 286.9,775.6 289.5,775.9 292.2,775.7 294.8,774.8 297.4,775.1 300,774.4 302.6,774.8 305.2,774.3 307.8,774.6 310.4,774.5 313,773.9 315.6,774.1 318.2,773.3 320.8,772.9 323.5,773.2 326.1,772.5 328.7,772.5 331.3,772.5 333.9,772.4 336.5,771.8 339.1,771.6 341.7,772.1 344.3,771.4 346.9,771.8 349.5,771.6 352.1,771 354.7,770.9 357.3,770.8 359.9,770.8 362.5,770.6 365.1,770.4 367.7,770.4 370.3,770.5 372.9,770 375.6,769.8 378.2,769.9 380.8,769.3 383.4,769.2 386,769.7 388.6,769.2 391.2,769.1 393.8,768.4 396.4,768.7 399,768.7 401.6,768 404.2,768.3 406.8,768.2 409.4,767.4 412,767.8 414.6,767.4 417.2,767.4 419.8,767 422.4,767.1 425.1,766.9 427.7,766.1 430.3,765.9 432.9,766.3 435.5,766.4 438.1,765.5 440.7,765.5 443.3,765.5 445.9,765 448.5,764.9 451.2,764.7 453.8,764.7 456.5,764.8 459.2,764.4 461.8,764.4 464.5,764.6 467.2,763.8 469.9,764.2 472.5,764.2 475.2,763.8 477.9,763.6 480.5,764 483.2,763.4 486.1,761.8 489,760.4 493,759 496,759.8 499,761.3 503,762.2 505.7,761.7 508.3,760.4 511,759.8 515.3,757.2 518,757 520.7,757 523.3,756.9 526,756.2 528.7,755.7 531.4,755.3 534.1,755.4 536.8,754.8 539.5,755 542.1,754.7 544.8,753.8 547.5,753.6 550,753.6 552.5,752.9 554.9,752.6 557.4,751.7 559.9,751 562.4,750.7 564.9,750.6 567.3,749.7 569.8,749.3 572.3,748.8 574.9,748.4 577.5,747.9 580.1,747.9 582.6,746.7 585.2,746.1 587.8,746.5 590.4,746 593,745.2" fill="none" stroke="#58b3e6" stroke-width="4.2" stroke-linejoin="round" stroke-linecap="round" />
<polyline points="102.7,849.3 103.4,846.4 104.1,843.7 104.8,841.5 105.5,838.7 106.2,836 106.9,833.8 108.3,831.7 109.6,829 111,826.3 113.1,823.2 115.2,821 117.3,818.2 119.2,815.7 121.2,813.3 123.1,811 125,809.5 127.4,807.1 129.8,804.9 132.2,802.6 134.7,801.4 137.1,801 139.6,800.9 142.1,800.4 144.6,800 147,799.5 149.5,798.1 152.4,798.4 155.3,798.1 158.2,797.6 161,796.9 163.9,796.9 166.8,796.1 169.6,797 172.5,796.9 175.3,796.4 178.1,796.1 180.9,796.7 183.8,796.3 186.6,796.5 189.4,796.5 192.3,796.1 195.1,796 197.9,796.2 200.7,796 203.6,795.7 206.4,795.9 209.1,796.4 211.9,795.5 214.6,795.5 217.3,796 220.1,795.6 222.8,795.8 225.5,795.7 228.2,795.5 231,796.2 233.7,795.3 236.4,795.6 239.1,795.4 241.9,795.9 244.6,795.6 247.3,795.7 250,796.2 252.7,795.8 255.5,796.1 258.2,796.5 260.9,795.7 263.6,795.7 266.4,795.9 269.1,796.6 271.9,796.4 274.6,796.1 277.4,796.2 280.1,796.1 282.9,796.5 285.6,796.1 288.4,797.4 291.2,798.2 293.9,798.8 296.7,799.2 299.5,800 303,799.5 305.5,798.9 307.9,798.8 310.4,797.7 313,797.1 315.6,797.5 318.2,797 320.8,797.1 323.4,796.3 326,796 328.6,796.1 331.3,795.6 333.9,795.7 336.5,796.2 339.1,795.3 341.7,794.8 344.3,794.6 346.9,794.6 349.5,795.1 352.1,794.5 354.7,794.3 357.3,793.9 359.9,794.8 362.5,794 365.1,793.7 367.7,793.4 370.3,793.2 372.9,793.2 375.6,793.6 378.2,792.9 380.8,792.7 383.4,793 386,792.6 388.6,793.3 391.2,792.2 393.8,792.5 396.4,792.6 399,792.1 401.8,792.4 404.7,791.5 407.5,790.9 410.3,790.7 413.1,790 416,790.1 418.8,789.5 421.5,790.2 424.2,790.1 426.9,789.7 429.6,789.2 432.3,789.4 435,789.4 437.7,789.4 440.4,789.4 443.1,790 445.8,789.2 448.5,789.1 451.3,789.8 454,789.1 456.8,789.3 459.5,788.4 462.3,788.7 465,788.2 467.8,788.1 470.5,787.7 473.3,787.2 476,786.6 478.8,786.6 481.5,787.2 484.3,787.1 487,787 489.8,786.2 492.5,786.4 495.3,786.5 498,786.2 500.8,786.2 503.5,785.8 506.3,785.8 509,785.7 511.8,785.1 514.5,785.7 517.3,785.6 520,784.5 522.8,785.3 525.5,785.2 528.3,784.7 531,783.9 533.8,784.7 536.5,783.7 539.3,784.4 542,784 544.8,783.2 547.5,783.1 550.3,783.5 553.2,783.2 556,783.2 558.8,783.2 561.6,782.3 564.5,781.8 567.3,782.7 569.9,781.7 572.4,782.7 575,781.9 577.6,782.7 580.1,782.7 582.7,782.9 585.3,782.5 587.9,782.9 590.4,782.2 593,782.6" fill="none" stroke="#d0612a" stroke-width="4.2" stroke-linejoin="round" stroke-linecap="round" />
<polyline points="102.7,865.9 104.1,863.6 105.5,861.3 106.9,859 109.3,858.2 111.7,857.3 114,856.6 116.4,855.2 118.8,854.7 121.6,854.5 124.3,853.8 127.1,853.4 129.9,852.5 132.6,852.2 135.4,851.5 138.1,851.5 140.8,851.3 143.5,850.7 146.2,850.6 148.9,850.4 151.6,850.5 154.3,850.2 156.9,849.7 159.5,850.1 162,849.6 164.6,849.8 167.2,849.5 169.8,849.3 172.4,849.8 175,849.3 177.5,849.3 180.1,849.7 182.7,849.5 185.3,849.1 187.9,849.4 190.5,849.1 193.1,849.1 195.6,848.8 198.2,849.1 200.8,848.9 203.4,849 206,848.9 208.6,848.4 211.2,848.4 213.8,848.2 216.3,848.1 218.9,848 221.5,848.1 224.1,848.2 226.7,847.8 229.3,848.1 231.9,847.8 234.5,847.7 237.1,848 239.6,847.7 242.2,847.5 244.8,847.5 247.4,847.6 250,847.1 252.6,847.7 255.1,847.1 257.7,847.5 260.2,847.5 262.8,847 265.3,847.5 267.9,847.2 270.5,847.3 273,847 275.6,847 278.1,847 280.7,847.5 283.2,847 285.8,847.3 288.4,847.4 290.9,847.4 293.5,847 296,847 298.6,847.1 301.1,847.2 303.7,846.8 306.3,847.2 308.8,847.2 311.4,847.2 313.9,846.7 316.5,847.2 319,846.7 321.6,846.8 324.2,847 326.7,847.1 329.3,846.8 331.8,847.1 334.4,846.9 336.9,846.7 339.5,846.7 342.1,846.6 344.6,846.5 347.2,846.5 349.7,846.8 352.3,847 354.8,846.4 357.4,846.3 360,846.9 362.5,846.6 365.1,846.5 367.6,846.4 370.2,846.5 372.7,846.7 375.3,846.4 377.9,846.4 380.4,846.1 383,846.6 385.5,846.1 388.1,846.3 390.6,846.5 393.2,846 395.8,846.4 398.3,846.5 400.9,846.3 403.4,846.3 406,845.9 408.5,846.1 411.1,845.9 413.7,846.3 416.2,845.9 418.8,846 421.3,846.3 423.9,846.2 426.4,846.2 429,845.9 431.5,845.9 434,846 436.6,845.9 439.1,845.8 441.6,845.8 444.1,845.7 446.7,845.8 449.2,846.2 451.7,846.1 454.2,845.9 456.8,845.8 459.3,845.7 461.8,845.6 464.3,845.7 466.8,846 469.4,846 471.9,845.7 474.4,846 476.9,846 479.5,845.9 482,845.9 484.5,846 487,845.7 489.6,845.9 492.1,845.7 494.6,845.8 497.1,845.9 499.6,845.9 502.2,845.6 504.7,846 507.2,845.8 509.7,845.8 512.3,845.5 514.8,845.8 517.3,845.6 519.8,845.8 522.4,845.7 524.9,845.9 527.4,845.8 529.9,845.9 532.4,845.6 535,845.8 537.5,845.8 540,845.9 542.5,845.6 545.1,845.9 547.6,845.9 550.1,845.8 552.6,846 555.2,845.9 557.7,845.7 560.2,845.7 562.7,845.5 565.2,845.9 567.8,845.9 570.3,845.6 572.8,845.8 575.3,845.8 577.9,845.8 580.4,845.4 582.9,845.8 585.4,845.7 588,845.7 590.5,845.6 593,845.6" fill="none" stroke="#e8a22c" stroke-width="4.2" stroke-linejoin="round" stroke-linecap="round" />
<polyline points="102.7,878.9 104.1,876.8 105.5,874.5 106.9,871.8 109.3,870.4 111.6,868.9 114,868.4 117.5,868.8 121.1,869.7 123.5,868.1 125.8,867.3 128.2,865.6 130.6,865 133,863.7 135.4,862.3 137.7,861.2 140.1,860.2 142.5,858.5 144.9,857.4 147.2,856.3 149.6,854.3 151.9,853.4 154.3,851.9 157.1,851.4 159.8,850.3 162.6,849.5 165.4,849.6 168.1,849 170.9,848 173.8,847.1 176.8,846.6 179.8,846.4 182.7,845.5 185.3,846.1 188,845.7 190.6,845.3 193.2,845.7 195.9,845.3 198.5,845.9 201.1,845.8 203.8,845.4 206.4,845.4 209,845.5 211.5,845.6 214.1,845.8 216.7,844.8 219.2,845.2 221.8,845.4 224.4,845.1 226.9,845.4 229.5,844.9 232,845.7 234.6,845.3 237.2,844.9 239.7,845.5 242.3,845.1 244.9,845 247.4,845.3 250,844.9 252.6,845 255.1,845.6 257.7,845.4 260.2,844.7 262.8,845.4 265.3,844.6 267.9,844.9 270.5,845.4 273,845.1 275.6,844.8 278.1,844.8 280.7,844.8 283.2,844.5 285.8,845.3 288.4,844.3 290.9,844.7 293.5,845 296,844.6 298.6,845.1 301.1,844.4 303.7,845.1 306.3,844.9 308.8,844.7 311.4,844.9 313.9,844.4 316.5,844.7 319,844.7 321.6,844.4 324.2,844.3 326.7,844.5 329.3,844.1 331.8,843.8 334.4,844.4 336.9,843.9 339.5,844.1 342.1,844.3 344.6,843.6 347.2,843.4 349.7,843.4 352.3,843.8 354.8,843.5 357.4,843.3 360,843.4 362.5,843.8 365.1,843.1 367.6,843.2 370.2,843.6 372.7,843.2 375.3,842.8 377.9,842.9 380.4,842.8 383,842.4 385.5,842.6 388.1,842.4 390.6,842.9 393.2,842.3 395.8,842.6 398.3,842.8 400.9,842.7 403.4,842 406,842.2 408.5,841.8 411.1,841.8 413.7,841.9 416.2,842.1 418.8,842.1 421.3,841.4 423.9,841.1 426.4,841.4 429,841 431.6,840.9 434.1,841.6 436.7,840.9 439.2,841.4 441.8,841 444.4,841.5 446.9,841.4 449.5,840.6 452,840.6 454.6,841.3 457.2,840.9 459.7,840.7 462.3,841 464.8,841 467.4,840.6 470,840.5 472.5,840.1 475.1,840.3 477.6,840.1 480.2,840.5 482.8,840.4 485.3,839.9 487.9,840.3 490.4,839.8 493,839.7 495.6,840.2 498.1,840 500.7,840.4 503.2,840 505.8,840.1 508.4,839.4 510.9,840.1 513.5,839.3 516,839.8 518.6,840 521.2,840 523.7,840 526.3,839.5 528.9,839.7 531.4,839.8 534,839.1 536.6,839.9 539.1,839.8 541.7,839.4 544.3,839.7 546.8,839.3 549.4,839.1 552,839.5 554.5,838.9 557.1,839.6 559.6,839.7 562.2,839 564.8,839.7 567.3,838.8 569.9,839.5 572.5,838.9 575,839.6 577.6,839.1 580.2,839.5 582.7,838.6 585.3,838.6 587.9,839.4 590.4,839.2 593,839" fill="none" stroke="#cc78a8" stroke-width="4.2" stroke-linejoin="round" stroke-linecap="round" />
<text transform="translate(161.3,543.9) scale(1.0350,1)" font-size="26" font-weight="bold" fill="#1271b0"><tspan>NiFe</tspan><tspan font-size="15.5" dy="9">2</tspan><tspan dy="-9">O</tspan><tspan font-size="15.5" dy="9">4</tspan></text>
<text transform="translate(413.9,669.4) scale(1.0196,1)" font-size="26" font-weight="bold" fill="#16a074"><tspan>Ni</tspan><tspan font-size="15.5" dy="9">0.5</tspan><tspan dy="-9">Co</tspan><tspan font-size="15.5" dy="9">0.5</tspan><tspan dy="-9">Fe</tspan><tspan font-size="15.5" dy="9">2</tspan><tspan dy="-9">O</tspan><tspan font-size="15.5" dy="9">4</tspan></text>
<text transform="translate(490,734.4) scale(1.0247,1)" font-size="26" font-weight="bold" fill="#58b3e6"><tspan>NiCoO</tspan><tspan font-size="15.5" dy="9">2</tspan></text>
<text transform="translate(533.2,776.7) scale(1.0350,1)" font-size="26" font-weight="bold" fill="#d0612a"><tspan>NiO</tspan></text>
<text transform="translate(528.7,824.4) scale(1.0350,1)" font-size="26" font-weight="bold" fill="#cc78a8"><tspan>IrO</tspan><tspan font-size="15.5" dy="9">2</tspan></text>
<text transform="translate(510,873) scale(1.0152,1)" font-size="26" font-weight="bold" fill="#e8a22c"><tspan>Co</tspan><tspan font-size="15.5" dy="9">3</tspan><tspan dy="-9">O</tspan><tspan font-size="15.5" dy="9">4</tspan></text>
<rect x="691.3" y="501.5" width="497" height="406.7" fill="none" stroke="#000" stroke-width="1.7"/>
<line x1="691" y1="908.2" x2="691" y2="900.8" stroke="#000" stroke-width="1.6" />
<line x1="773.7" y1="908.2" x2="773.7" y2="900.8" stroke="#000" stroke-width="1.6" />
<line x1="856.4" y1="908.2" x2="856.4" y2="900.8" stroke="#000" stroke-width="1.6" />
<line x1="939.1" y1="908.2" x2="939.1" y2="900.8" stroke="#000" stroke-width="1.6" />
<line x1="1021.8" y1="908.2" x2="1021.8" y2="900.8" stroke="#000" stroke-width="1.6" />
<line x1="1104.5" y1="908.2" x2="1104.5" y2="900.8" stroke="#000" stroke-width="1.6" />
<line x1="1187.2" y1="908.2" x2="1187.2" y2="900.8" stroke="#000" stroke-width="1.6" />
<line x1="732.4" y1="908.2" x2="732.4" y2="904.2" stroke="#000" stroke-width="1.6" />
<line x1="815" y1="908.2" x2="815" y2="904.2" stroke="#000" stroke-width="1.6" />
<line x1="897.8" y1="908.2" x2="897.8" y2="904.2" stroke="#000" stroke-width="1.6" />
<line x1="980.5" y1="908.2" x2="980.5" y2="904.2" stroke="#000" stroke-width="1.6" />
<line x1="1063.2" y1="908.2" x2="1063.2" y2="904.2" stroke="#000" stroke-width="1.6" />
<line x1="1145.8" y1="908.2" x2="1145.8" y2="904.2" stroke="#000" stroke-width="1.6" />
<line x1="740.6" y1="501.5" x2="740.6" y2="505.5" stroke="#000" stroke-width="1.6" />
<line x1="790.2" y1="501.5" x2="790.2" y2="508.9" stroke="#000" stroke-width="1.6" />
<line x1="839.8" y1="501.5" x2="839.8" y2="505.5" stroke="#000" stroke-width="1.6" />
<line x1="889.4" y1="501.5" x2="889.4" y2="508.9" stroke="#000" stroke-width="1.6" />
<line x1="939" y1="501.5" x2="939" y2="505.5" stroke="#000" stroke-width="1.6" />
<line x1="988.6" y1="501.5" x2="988.6" y2="508.9" stroke="#000" stroke-width="1.6" />
<line x1="1038.2" y1="501.5" x2="1038.2" y2="505.5" stroke="#000" stroke-width="1.6" />
<line x1="1087.8" y1="501.5" x2="1087.8" y2="508.9" stroke="#000" stroke-width="1.6" />
<line x1="1137.4" y1="501.5" x2="1137.4" y2="505.5" stroke="#000" stroke-width="1.6" />
<line x1="691.3" y1="889.6" x2="698.7" y2="889.6" stroke="#000" stroke-width="1.6" />
<line x1="691.3" y1="811.9" x2="698.7" y2="811.9" stroke="#000" stroke-width="1.6" />
<line x1="691.3" y1="734.2" x2="698.7" y2="734.2" stroke="#000" stroke-width="1.6" />
<line x1="691.3" y1="656.5" x2="698.7" y2="656.5" stroke="#000" stroke-width="1.6" />
<line x1="691.3" y1="578.8" x2="698.7" y2="578.8" stroke="#000" stroke-width="1.6" />
<line x1="691.3" y1="501.1" x2="698.7" y2="501.1" stroke="#000" stroke-width="1.6" />
<line x1="691.3" y1="850.8" x2="695.3" y2="850.8" stroke="#000" stroke-width="1.6" />
<line x1="691.3" y1="773" x2="695.3" y2="773" stroke="#000" stroke-width="1.6" />
<line x1="691.3" y1="695.4" x2="695.3" y2="695.4" stroke="#000" stroke-width="1.6" />
<line x1="691.3" y1="617.6" x2="695.3" y2="617.6" stroke="#000" stroke-width="1.6" />
<line x1="691.3" y1="540" x2="695.3" y2="540" stroke="#000" stroke-width="1.6" />
<line x1="1188.3" y1="867.2" x2="1184.3" y2="867.2" stroke="#000" stroke-width="1.6" />
<line x1="1188.3" y1="826.6" x2="1180.9" y2="826.6" stroke="#000" stroke-width="1.6" />
<line x1="1188.3" y1="786" x2="1184.3" y2="786" stroke="#000" stroke-width="1.6" />
<line x1="1188.3" y1="745.3" x2="1180.9" y2="745.3" stroke="#000" stroke-width="1.6" />
<line x1="1188.3" y1="704.6" x2="1184.3" y2="704.6" stroke="#000" stroke-width="1.6" />
<line x1="1188.3" y1="664" x2="1180.9" y2="664" stroke="#000" stroke-width="1.6" />
<line x1="1188.3" y1="623.3" x2="1184.3" y2="623.3" stroke="#000" stroke-width="1.6" />
<line x1="1188.3" y1="582.7" x2="1180.9" y2="582.7" stroke="#000" stroke-width="1.6" />
<line x1="1188.3" y1="542" x2="1184.3" y2="542" stroke="#000" stroke-width="1.6" />
<text transform="translate(685.8,896) scale(1.0000,1)" font-size="25.4" text-anchor="end" fill="#000">0.0</text>
<text transform="translate(685.8,818.3) scale(1.0000,1)" font-size="25.4" text-anchor="end" fill="#000">0.2</text>
<text transform="translate(685.8,740.6) scale(1.0000,1)" font-size="25.4" text-anchor="end" fill="#000">0.4</text>
<text transform="translate(685.8,662.9) scale(1.0000,1)" font-size="25.4" text-anchor="end" fill="#000">0.6</text>
<text transform="translate(685.8,585.2) scale(1.0000,1)" font-size="25.4" text-anchor="end" fill="#000">0.8</text>
<text transform="translate(685.8,509.4) scale(1.0000,1)" font-size="25.4" text-anchor="end" fill="#000">1.0</text>
<text transform="translate(692.5,931) scale(1.0000,1)" font-size="25.4" text-anchor="middle" fill="#000">0.0</text>
<text transform="translate(773.7,931) scale(1.0000,1)" font-size="25.4" text-anchor="middle" fill="#000">0.1</text>
<text transform="translate(856.4,931) scale(1.0000,1)" font-size="25.4" text-anchor="middle" fill="#000">0.2</text>
<text transform="translate(939.1,931) scale(1.0000,1)" font-size="25.4" text-anchor="middle" fill="#000">0.3</text>
<text transform="translate(1021.8,931) scale(1.0000,1)" font-size="25.4" text-anchor="middle" fill="#000">0.4</text>
<text transform="translate(1104.5,931) scale(1.0000,1)" font-size="25.4" text-anchor="middle" fill="#000">0.5</text>
<text transform="translate(1180.4,931) scale(1.0000,1)" font-size="25.4" text-anchor="middle" fill="#000">0.6</text>
<text transform="translate(614.5,512.5) scale(1.0400,1)" font-size="31" font-weight="normal" fill="#000"><tspan>d)</tspan></text>
<text transform="translate(638,708) rotate(-90) scale(1.0,1)" font-size="27" text-anchor="middle">Mass activity (mA•μg<tspan font-size="15" dy="-10">-1</tspan><tspan font-size="15" dy="19">Ir</tspan><tspan dy="-9">)</tspan></text>
<text transform="translate(798.6,955.2) scale(1.0288,1)" font-size="26" font-weight="normal" fill="#000"><tspan>Overpotential (V) - i•R</tspan><tspan font-size="15" dy="8">u</tspan></text>
<text transform="translate(717.5,542) scale(1.0683,1)" font-size="25.3" font-weight="normal" fill="#000"><tspan>1 M KOH</tspan></text>
<path d="M692,886.2 C723.3,886.2 845.2,886.5 880,886.2 C914.8,885.9 893.7,885.1 900.6,884.2 C907.5,883.4 914.4,882.3 921.2,881.1 C928.1,879.9 934.9,878.7 941.7,877 C948.6,875.3 955.4,873.5 962.3,870.8 C969.2,868 976,865 982.9,860.5 C989.8,856 996.6,851.5 1003.5,844 C1010.4,836.5 1018.5,824.1 1024,815.2 C1029.5,806.3 1032.6,798.7 1036.4,790.5 C1040.2,782.3 1043.3,774.7 1046.7,765.8 C1050.1,756.9 1053.9,745.9 1057,737 C1060.1,728.1 1063,719 1065.2,712.3 C1067.4,705.6 1068.1,702.7 1070,697 C1071.9,691.3 1074,686.7 1076.5,678 C1079,669.3 1082.3,654.8 1084.8,644.8 C1087.3,634.8 1089.7,626.4 1091.6,617.7 C1093.5,609 1095.3,596.9 1096.1,592.8" fill="none" stroke="#cc78a8" stroke-width="3.4" stroke-linejoin="round" stroke-linecap="round" />
<path d="M692,887.2 C733.6,887.1 896.7,887.1 941.7,886.4 C986.8,885.7 955.4,884.7 962.3,883.1 C969.2,881.5 976,880.1 982.9,877 C989.8,873.9 996.6,870.1 1003.5,864.6 C1010.4,859.1 1018.2,850.9 1024,844 C1029.8,837.1 1033.9,831 1038.4,823.5 C1042.9,816 1047,807.4 1050.8,798.8 C1054.6,790.2 1058,781.6 1061.1,772 C1064.2,762.4 1066.9,751.2 1069.3,741.2 C1071.7,731.2 1073.8,720.4 1075.5,712.3 C1077.2,704.1 1077.3,701.3 1079.2,692.3 C1081.1,683.3 1084.6,669.3 1087.1,658.4 C1089.5,647.5 1092.4,637.4 1093.9,626.7 C1095.4,616 1095.7,599.5 1096.1,594" fill="none" stroke="#cc78a8" stroke-width="3.4" stroke-linejoin="round" stroke-linecap="round" />
<path d="M950,888 C957.5,887.2 984.6,884.9 995.2,883.1 C1005.8,881.3 1008.2,880.1 1013.7,877 C1019.2,873.9 1024,870.1 1028.1,864.6 C1032.2,859.1 1035.3,851.5 1038.4,844 C1041.5,836.5 1044.3,827.9 1046.7,819.3 C1049.1,810.7 1050.8,802.2 1052.8,792.6 C1054.8,783 1057.1,772 1059,761.7 C1060.9,751.4 1062.6,741.5 1064.2,730.9 C1065.8,720.3 1066.6,710.1 1068.5,698 C1070.4,685.9 1073.8,671 1075.8,658.4 C1077.8,645.8 1078.8,634.3 1080.3,622.2 C1081.8,610.1 1083.7,596.9 1084.8,586 C1085.9,575.1 1086.4,566.4 1087.1,556.6 C1087.8,546.8 1088.6,532.1 1088.9,527.2" fill="none" stroke="#e8a22c" stroke-width="3.4" stroke-linejoin="round" stroke-linecap="round" />
<path d="M960,888.5 C967.9,887.8 996.9,885.8 1007.6,884.2 C1018.3,882.6 1019.2,881.6 1024,879 C1028.8,876.4 1033,873.2 1036.4,868.7 C1039.8,864.2 1041.9,859.1 1044.6,852.3 C1047.3,845.4 1050.4,836.5 1052.8,827.6 C1055.2,818.7 1056.9,809.1 1059,798.8 C1061.1,788.5 1063.3,777.1 1065.2,765.8 C1067.1,754.5 1068.8,741.9 1070.3,730.9 C1071.8,719.9 1072.2,712.1 1074,700 C1075.8,687.9 1079.4,672.9 1081.4,658.4 C1083.4,643.9 1084.9,628.2 1086,613.1 C1087.1,598 1087.6,581.9 1088.2,567.9 C1088.8,553.9 1089.2,535.8 1089.4,529.4" fill="none" stroke="#e8a22c" stroke-width="3.4" stroke-linejoin="round" stroke-linecap="round" />
<path d="M960,888 C967.2,887.2 991.8,885.3 1003.5,883.1 C1015.2,880.9 1022.5,877.4 1030,874.6 C1037.5,871.8 1042.3,869.8 1048.5,866.3 C1054.7,862.8 1061.4,858.5 1067,853.3 C1072.6,848 1077.9,841 1081.9,834.8 C1085.9,828.6 1088.3,822.5 1091.1,816.3 C1093.9,810.1 1096.3,804 1098.5,797.8 C1100.7,791.6 1102.2,786.1 1104.1,779.3 C1105.9,772.5 1107.9,764 1109.6,757 C1111.3,750 1113.5,740.8 1114.3,737.6" fill="none" stroke="#1271b0" stroke-width="3.4" stroke-linejoin="round" stroke-linecap="round" />
<path d="M990,888.5 C996.7,887.3 1019.6,883.6 1030,881.1 C1040.4,878.6 1045.4,876.8 1052.2,873.7 C1059,870.6 1065.5,867.5 1070.7,862.6 C1076,857.7 1080,850.6 1083.7,844.1 C1087.4,837.6 1090.2,830.5 1093,823.7 C1095.8,816.9 1098.2,810.1 1100.4,803.3 C1102.6,796.5 1104.1,790.7 1105.9,783 C1107.8,775.3 1110.1,764.4 1111.5,757 C1112.9,749.6 1113.8,741.6 1114.3,738.5" fill="none" stroke="#1271b0" stroke-width="3.4" stroke-linejoin="round" stroke-linecap="round" />
<path d="M980,888.5 C988.3,887.6 1017,885 1030,883 C1043,881 1049.1,879.6 1057.8,876.5 C1066.5,873.4 1075.1,869.2 1081.9,864.4 C1088.7,859.6 1093.9,853.6 1098.5,847.8 C1103.1,841.9 1106.5,835.5 1109.6,829.3 C1112.7,823.1 1114.7,816.6 1117,810.7 C1119.3,804.8 1121.8,799.5 1123.5,794.1 C1125.2,788.7 1126.6,780.9 1127.2,778.3" fill="none" stroke="#d0612a" stroke-width="3.4" stroke-linejoin="round" stroke-linecap="round" />
<path d="M1000,889 C1008.1,888 1035.8,885.2 1048.5,883 C1061.2,880.8 1068.6,879 1076.3,875.6 C1084,872.2 1089.5,867.6 1094.8,862.6 C1100,857.6 1104.1,851.8 1107.8,845.9 C1111.5,840 1114.4,833.9 1117,827.4 C1119.6,820.9 1121.8,814.7 1123.5,807 C1125.2,799.3 1126.6,785.4 1127.2,781.1" fill="none" stroke="#d0612a" stroke-width="3.4" stroke-linejoin="round" stroke-linecap="round" />
<path d="M1000,888.8 C1005,888.6 1018.8,888.1 1030,887.8 C1041.2,887.5 1056.2,887.5 1067,886.9 C1077.8,886.2 1087.1,885.2 1094.8,883.9 C1102.5,882.6 1107.8,881.3 1113.3,879.3 C1118.8,877.3 1123.8,874.7 1128.1,871.9 C1132.4,869.1 1135.6,866.3 1139.3,862.6 C1143,858.9 1148.6,851.8 1150.4,849.6" fill="none" stroke="#58b3e6" stroke-width="3.4" stroke-linejoin="round" stroke-linecap="round" />
<path d="M1060,889.2 C1064.3,889.1 1076.7,889.2 1085.6,888.5 C1094.5,887.8 1105.6,886.9 1113.3,884.8 C1121,882.6 1127,879 1131.9,875.6 C1136.9,872.2 1139.9,868.4 1143,864.4 C1146.1,860.4 1149.2,853.6 1150.4,851.5" fill="none" stroke="#58b3e6" stroke-width="3.4" stroke-linejoin="round" stroke-linecap="round" />
<polyline points="1140.6,849.5 1141.6,857.5 1146.5,853.5" fill="none" stroke="#58b3e6" stroke-width="2.6" stroke-linejoin="round" stroke-linecap="round" />
<path d="M990,889 C996.7,888.5 1017.2,887.3 1030,885.7 C1042.8,884.1 1056.2,882.5 1067,879.3 C1077.8,876.1 1087.1,871.2 1094.8,866.3 C1102.5,861.3 1108.4,855.1 1113.3,849.6 C1118.2,844.1 1121.3,838.9 1124.4,833 C1127.5,827.1 1129.9,820.6 1131.9,814.4 C1133.9,808.2 1135.7,799 1136.5,795.9" fill="none" stroke="#16a074" stroke-width="3.4" stroke-linejoin="round" stroke-linecap="round" />
<path d="M1010,889 C1018,888.5 1045.2,887.2 1057.8,885.7 C1070.4,884.2 1077.3,883.1 1085.6,880.2 C1093.9,877.3 1101.9,872.6 1107.8,868.1 C1113.7,863.6 1117.3,858.2 1120.7,853.3 C1124.1,848.4 1126.1,844 1128.1,838.5 C1130.1,833 1131.4,826.8 1132.8,820 C1134.2,813.2 1135.9,801.5 1136.5,797.8" fill="none" stroke="#16a074" stroke-width="3.4" stroke-linejoin="round" stroke-linecap="round" />
<polyline points="692.5,888.4 900,888.4 1000,888.6 1035,888.4" fill="none" stroke="#16a074" stroke-width="4.6" stroke-linejoin="round" stroke-linecap="round" />
<polyline points="1039.6,534 1078,541.4" fill="none" stroke="#e8a22c" stroke-width="1.6" stroke-linejoin="round" stroke-linecap="round" stroke-dasharray="4 3" stroke-linecap="butt"/>
<polyline points="1133.5,588.4 1098.6,607.7" fill="none" stroke="#cc78a8" stroke-width="1.6" stroke-linejoin="round" stroke-linecap="round" stroke-dasharray="4 3" stroke-linecap="butt"/>
<polyline points="1032.8,694.6 1102.2,745" fill="none" stroke="#1271b0" stroke-width="1.6" stroke-linejoin="round" stroke-linecap="round" stroke-dasharray="4 3" stroke-linecap="butt"/>
<polyline points="1014.3,754.7 1120.5,784.8" fill="none" stroke="#d0612a" stroke-width="1.6" stroke-linejoin="round" stroke-linecap="round" stroke-dasharray="4 3" stroke-linecap="butt"/>
<polyline points="983.3,801.1 1109,822.5" fill="none" stroke="#16a074" stroke-width="1.6" stroke-linejoin="round" stroke-linecap="round" stroke-dasharray="4 3" stroke-linecap="butt"/>
<polyline points="1177.5,738.5 1160,797 1141.6,855" fill="none" stroke="#58b3e6" stroke-width="1.6" stroke-linejoin="round" stroke-linecap="round" stroke-dasharray="4 3" stroke-linecap="butt"/>
<text transform="translate(968.2,544.1) scale(1.0350,1)" font-size="26" font-weight="bold" fill="#e8a22c"><tspan>Co</tspan><tspan font-size="15.5" dy="9">3</tspan><tspan dy="-9">O</tspan><tspan font-size="15.5" dy="9">4</tspan></text>
<text transform="translate(1120,579.2) scale(1.0626,1)" font-size="26" font-weight="bold" fill="#cc78a8"><tspan>IrO</tspan><tspan font-size="15.5" dy="9">2</tspan></text>
<text transform="translate(956.3,686) scale(1.0230,1)" font-size="26" font-weight="bold" fill="#1271b0"><tspan>NiFe</tspan><tspan font-size="15.5" dy="9">2</tspan><tspan dy="-9">O</tspan><tspan font-size="15.5" dy="9">4</tspan></text>
<text transform="translate(977.4,746.4) scale(1.0350,1)" font-size="26" font-weight="bold" fill="#d0612a"><tspan>NiO</tspan></text>
<text transform="translate(1092.9,733) scale(1.0350,1)" font-size="26" font-weight="bold" fill="#58b3e6"><tspan>NiCoO</tspan><tspan font-size="15.5" dy="9">2</tspan></text>
<text transform="translate(830.9,789.4) scale(1.0249,1)" font-size="26" font-weight="bold" fill="#16a074"><tspan>Ni</tspan><tspan font-size="15.5" dy="9">0.5</tspan><tspan dy="-9">Co</tspan><tspan font-size="15.5" dy="9">0.5</tspan><tspan dy="-9">Fe</tspan><tspan font-size="15.5" dy="9">2</tspan><tspan dy="-9">O</tspan><tspan font-size="15.5" dy="9">4</tspan></text>
</svg>
</body></html>
